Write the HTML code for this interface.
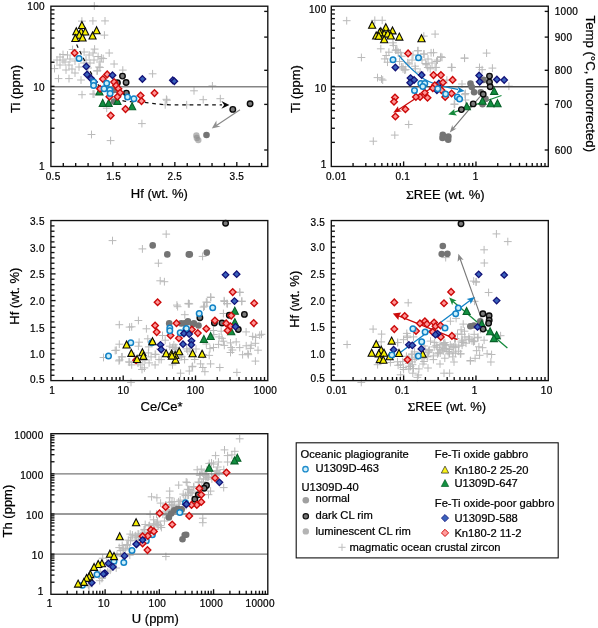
<!DOCTYPE html>
<html><head><meta charset="utf-8"><title>Zircon geochemistry</title>
<style>html,body{margin:0;padding:0;background:#fff}svg{display:block}text{font-family:"Liberation Sans", sans-serif;stroke:#000;stroke-width:0.22px}</style></head>
<body><svg width="598" height="628" viewBox="0 0 598 628">
<rect width="598" height="628" fill="#fff"/>
<path d="M90.4 6.0h7.8M94.3 2.1v7.8M78.0 21.1h7.8M81.9 17.2v7.8M89.0 20.9h7.8M92.9 17.0v7.8M101.1 20.9h7.8M105.0 17.0v7.8M100.5 35.1h7.8M104.4 31.2v7.8M90.7 49.1h7.8M94.6 45.2v7.8M68.7 49.5h7.8M72.6 45.6v7.8M59.1 54.5h7.8M63.0 50.6v7.8M63.6 55.0h7.8M67.5 51.1v7.8M80.2 52.0h7.8M84.1 48.1v7.8M85.2 55.0h7.8M89.1 51.1v7.8M89.2 53.0h7.8M93.1 49.1v7.8M94.2 56.5h7.8M98.1 52.6v7.8M99.3 58.6h7.8M103.2 54.7v7.8M105.3 53.0h7.8M109.2 49.1v7.8M59.1 60.0h7.8M63.0 56.1v7.8M50.6 68.6h7.8M54.5 64.7v7.8M65.1 65.0h7.8M69.0 61.1v7.8M62.1 70.0h7.8M66.0 66.1v7.8M68.1 69.0h7.8M72.0 65.1v7.8M75.1 67.0h7.8M79.0 63.1v7.8M54.6 78.6h7.8M58.5 74.7v7.8M65.1 78.6h7.8M69.0 74.7v7.8M77.1 80.0h7.8M81.0 76.1v7.8M95.1 67.0h7.8M99.0 63.1v7.8M93.1 71.0h7.8M97.0 67.1v7.8M78.1 94.7h7.8M82.0 90.8v7.8M89.1 94.0h7.8M93.0 90.1v7.8M56.1 57.0h7.8M60.0 53.1v7.8M61.1 62.0h7.8M65.0 58.1v7.8M66.1 59.0h7.8M70.0 55.1v7.8M71.1 61.0h7.8M75.0 57.1v7.8M73.1 56.0h7.8M77.0 52.1v7.8M82.1 60.0h7.8M86.0 56.1v7.8M86.1 63.0h7.8M90.0 59.1v7.8M90.1 60.0h7.8M94.0 56.1v7.8M96.1 62.0h7.8M100.0 58.1v7.8M84.1 68.0h7.8M88.0 64.1v7.8M56.1 65.0h7.8M60.0 61.1v7.8M71.1 73.0h7.8M75.0 69.1v7.8M80.1 63.0h7.8M84.0 59.1v7.8M53.1 60.0h7.8M57.0 56.1v7.8M97.5 58.0h7.8M101.4 54.1v7.8M110.2 64.0h7.8M114.1 60.1v7.8M96.1 67.4h7.8M100.0 63.5v7.8M93.5 70.7h7.8M97.4 66.8v7.8M118.9 70.1h7.8M122.8 66.2v7.8M148.7 73.8h7.8M152.6 69.9v7.8M163.0 100.2h7.8M166.9 96.3v7.8M138.0 123.6h7.8M141.9 119.7v7.8M90.1 94.1h7.8M94.0 90.2v7.8M102.8 108.2h7.8M106.7 104.3v7.8M162.5 99.3h7.8M166.4 95.4v7.8M190.1 90.8h7.8M194.0 86.9v7.8M208.5 85.9h7.8M212.4 82.0v7.8M199.3 99.7h7.8M203.2 95.8v7.8M216.4 98.7h7.8M220.3 94.8v7.8M161.3 104.8h7.8M165.2 100.9v7.8M182.8 104.8h7.8M186.7 100.9v7.8M87.6 134.5h7.8M91.5 130.6v7.8M106.7 140.6h7.8M110.6 136.7v7.8" stroke="#bababa" stroke-width="1.0" fill="none"/>
<line x1="50.90" y1="86.70" x2="267.80" y2="86.70" stroke="#858585" stroke-width="1.4" />

<path d="M76.6 44.5 C80 52 83.6 58.6 90.6 72.1 S100 88 112 96 S135 101 143.5 102.2 S160 104.6 170 104.8 H222" fill="none" stroke="#111" stroke-width="1.2" stroke-dasharray="3.7 3.8"/>

<circle cx="196.4" cy="135.5" r="3.2" fill="#8c8c8c" fill-opacity="0.62"/>
<circle cx="196.8" cy="137.9" r="3.2" fill="#8c8c8c" fill-opacity="0.62"/>
<circle cx="198.3" cy="140.1" r="3.2" fill="#8c8c8c" fill-opacity="0.62"/>
<circle cx="114.0" cy="90.0" r="3.3" fill="#747474" />
<circle cx="114.0" cy="101.5" r="3.3" fill="#747474" />
<circle cx="206.5" cy="135.0" r="3.3" fill="#747474" />
<path d="M99.4 88.0L103.0 95.0H95.9Z" fill="#129040" stroke="#086028" stroke-width="1.1" stroke-linejoin="miter"/>
<path d="M102.7 99.4L106.2 106.4H99.2Z" fill="#129040" stroke="#086028" stroke-width="1.1" stroke-linejoin="miter"/>
<path d="M108.7 99.4L112.2 106.4H105.2Z" fill="#129040" stroke="#086028" stroke-width="1.1" stroke-linejoin="miter"/>
<path d="M117.4 97.4L121.0 104.4H113.9Z" fill="#129040" stroke="#086028" stroke-width="1.1" stroke-linejoin="miter"/>
<path d="M132.1 102.8L135.7 109.8H128.5Z" fill="#129040" stroke="#086028" stroke-width="1.1" stroke-linejoin="miter"/>
<path d="M81.1 27.8L84.6 34.8H77.5Z" fill="#f6ee00" stroke="#0a0a0a" stroke-width="1.1" stroke-linejoin="miter"/>
<path d="M81.9 21.5L85.5 28.5H78.4Z" fill="#f6ee00" stroke="#0a0a0a" stroke-width="1.1" stroke-linejoin="miter"/>
<path d="M76.3 27.8L79.8 34.8H72.8Z" fill="#f6ee00" stroke="#0a0a0a" stroke-width="1.1" stroke-linejoin="miter"/>
<path d="M85.3 28.0L88.8 35.0H81.8Z" fill="#f6ee00" stroke="#0a0a0a" stroke-width="1.1" stroke-linejoin="miter"/>
<path d="M79.3 31.2L82.8 38.2H75.8Z" fill="#f6ee00" stroke="#0a0a0a" stroke-width="1.1" stroke-linejoin="miter"/>
<path d="M75.3 34.5L78.8 41.5H71.8Z" fill="#f6ee00" stroke="#0a0a0a" stroke-width="1.1" stroke-linejoin="miter"/>
<path d="M82.6 34.0L86.1 41.0H79.0Z" fill="#f6ee00" stroke="#0a0a0a" stroke-width="1.1" stroke-linejoin="miter"/>
<path d="M92.6 32.0L96.1 39.0H89.0Z" fill="#f6ee00" stroke="#0a0a0a" stroke-width="1.1" stroke-linejoin="miter"/>
<path d="M96.6 26.8L100.1 33.8H93.0Z" fill="#f6ee00" stroke="#0a0a0a" stroke-width="1.1" stroke-linejoin="miter"/>
<circle cx="122.5" cy="76.1" r="2.75" fill="#7a7a7a" stroke="#0a0a0a" stroke-width="1.4"/>
<circle cx="126.1" cy="82.5" r="2.75" fill="#7a7a7a" stroke="#0a0a0a" stroke-width="1.4"/>
<circle cx="117.4" cy="82.8" r="2.75" fill="#7a7a7a" stroke="#0a0a0a" stroke-width="1.4"/>
<circle cx="126.4" cy="93.1" r="2.75" fill="#7a7a7a" stroke="#0a0a0a" stroke-width="1.4"/>
<circle cx="232.8" cy="109.4" r="2.75" fill="#7a7a7a" stroke="#0a0a0a" stroke-width="1.4"/>
<circle cx="250.1" cy="103.7" r="2.75" fill="#7a7a7a" stroke="#0a0a0a" stroke-width="1.4"/>
<path d="M74.6 49.7L77.9 53.0L74.6 56.3L71.3 53.0Z" fill="#ff9696" stroke="#cc0a0a" stroke-width="1.4"/>
<path d="M107.2 71.1L110.5 74.4L107.2 77.7L103.9 74.4Z" fill="#ff9696" stroke="#cc0a0a" stroke-width="1.4"/>
<path d="M102.9 75.7L106.2 79.0L102.9 82.3L99.6 79.0Z" fill="#ff9696" stroke="#cc0a0a" stroke-width="1.4"/>
<path d="M114.1 78.8L117.4 82.1L114.1 85.4L110.8 82.1Z" fill="#ff9696" stroke="#cc0a0a" stroke-width="1.4"/>
<path d="M116.1 82.2L119.4 85.5L116.1 88.8L112.8 85.5Z" fill="#ff9696" stroke="#cc0a0a" stroke-width="1.4"/>
<path d="M118.4 85.5L121.7 88.8L118.4 92.1L115.1 88.8Z" fill="#ff9696" stroke="#cc0a0a" stroke-width="1.4"/>
<path d="M120.1 89.5L123.4 92.8L120.1 96.1L116.8 92.8Z" fill="#ff9696" stroke="#cc0a0a" stroke-width="1.4"/>
<path d="M117.4 93.5L120.7 96.8L117.4 100.1L114.1 96.8Z" fill="#ff9696" stroke="#cc0a0a" stroke-width="1.4"/>
<path d="M109.4 93.5L112.7 96.8L109.4 100.1L106.1 96.8Z" fill="#ff9696" stroke="#cc0a0a" stroke-width="1.4"/>
<path d="M100.0 85.5L103.3 88.8L100.0 92.1L96.7 88.8Z" fill="#ff9696" stroke="#cc0a0a" stroke-width="1.4"/>
<path d="M140.6 92.2L143.9 95.5L140.6 98.8L137.3 95.5Z" fill="#ff9696" stroke="#cc0a0a" stroke-width="1.4"/>
<path d="M141.5 97.8L144.8 101.1L141.5 104.4L138.2 101.1Z" fill="#ff9696" stroke="#cc0a0a" stroke-width="1.4"/>
<path d="M154.5 89.8L157.8 93.1L154.5 96.4L151.2 93.1Z" fill="#ff9696" stroke="#cc0a0a" stroke-width="1.4"/>
<path d="M125.5 105.8L128.8 109.1L125.5 112.4L122.2 109.1Z" fill="#ff9696" stroke="#cc0a0a" stroke-width="1.4"/>
<path d="M110.7 112.3L114.0 115.6L110.7 118.9L107.4 115.6Z" fill="#ff9696" stroke="#cc0a0a" stroke-width="1.4"/>
<path d="M86.3 63.3L89.5 66.6L86.3 69.8L83.0 66.6Z" fill="#3a62bc" stroke="#121278" stroke-width="1.3"/>
<path d="M87.1 71.3L90.3 74.6L87.1 77.8L83.8 74.6Z" fill="#3a62bc" stroke="#121278" stroke-width="1.3"/>
<path d="M91.1 75.3L94.3 78.6L91.1 81.8L87.8 78.6Z" fill="#3a62bc" stroke="#121278" stroke-width="1.3"/>
<path d="M94.1 78.8L97.3 82.1L94.1 85.3L90.8 82.1Z" fill="#3a62bc" stroke="#121278" stroke-width="1.3"/>
<path d="M112.5 72.0L115.8 75.2L112.5 78.5L109.2 75.2Z" fill="#3a62bc" stroke="#121278" stroke-width="1.3"/>
<path d="M142.4 75.7L145.7 78.9L142.4 82.2L139.2 78.9Z" fill="#3a62bc" stroke="#121278" stroke-width="1.3"/>
<path d="M172.8 77.0L176.1 80.2L172.8 83.5L169.6 80.2Z" fill="#3a62bc" stroke="#121278" stroke-width="1.3"/>
<path d="M174.3 78.0L177.6 81.3L174.3 84.5L171.1 81.3Z" fill="#3a62bc" stroke="#121278" stroke-width="1.3"/>
<circle cx="79.1" cy="58.6" r="2.75" fill="#ccf0fa" stroke="#1282c6" stroke-width="1.5"/>
<circle cx="93.6" cy="82.0" r="2.75" fill="#ccf0fa" stroke="#1282c6" stroke-width="1.5"/>
<circle cx="93.6" cy="85.6" r="2.75" fill="#ccf0fa" stroke="#1282c6" stroke-width="1.5"/>
<circle cx="106.7" cy="83.3" r="2.75" fill="#ccf0fa" stroke="#1282c6" stroke-width="1.5"/>
<circle cx="104.1" cy="88.7" r="2.75" fill="#ccf0fa" stroke="#1282c6" stroke-width="1.5"/>
<circle cx="109.8" cy="90.1" r="2.75" fill="#ccf0fa" stroke="#1282c6" stroke-width="1.5"/>
<circle cx="110.1" cy="93.5" r="2.75" fill="#ccf0fa" stroke="#1282c6" stroke-width="1.5"/>
<circle cx="127.5" cy="97.1" r="2.75" fill="#ccf0fa" stroke="#1282c6" stroke-width="1.5"/>
<circle cx="133.9" cy="98.8" r="2.75" fill="#ccf0fa" stroke="#1282c6" stroke-width="1.5"/>

<path d="M229.4 104.9 L221.4 101.1 L224.2 104.9 L221.4 108.7 Z" fill="#0a0a0a"/>
<line x1="240" y1="109.8" x2="216" y2="125.8" stroke="#888" stroke-width="1.1"/>
<path d="M211.8 128.6 L220.6 126.6 L216.6 125.4 L216.4 120.6 Z" fill="#909090"/>

<rect x="50.90" y="6.20" width="216.90" height="160.30" fill="none" stroke="#111" stroke-width="1.35"/>
<line x1="50.90" y1="142.37" x2="54.50" y2="142.37" stroke="#111" stroke-width="1.35" />
<line x1="50.90" y1="128.26" x2="54.50" y2="128.26" stroke="#111" stroke-width="1.35" />
<line x1="50.90" y1="118.24" x2="54.50" y2="118.24" stroke="#111" stroke-width="1.35" />
<line x1="50.90" y1="110.48" x2="54.50" y2="110.48" stroke="#111" stroke-width="1.35" />
<line x1="50.90" y1="104.13" x2="54.50" y2="104.13" stroke="#111" stroke-width="1.35" />
<line x1="50.90" y1="98.77" x2="54.50" y2="98.77" stroke="#111" stroke-width="1.35" />
<line x1="50.90" y1="94.12" x2="54.50" y2="94.12" stroke="#111" stroke-width="1.35" />
<line x1="50.90" y1="90.02" x2="54.50" y2="90.02" stroke="#111" stroke-width="1.35" />
<line x1="50.90" y1="86.35" x2="54.50" y2="86.35" stroke="#111" stroke-width="1.35" />
<line x1="50.90" y1="62.22" x2="54.50" y2="62.22" stroke="#111" stroke-width="1.35" />
<line x1="50.90" y1="48.11" x2="54.50" y2="48.11" stroke="#111" stroke-width="1.35" />
<line x1="50.90" y1="38.09" x2="54.50" y2="38.09" stroke="#111" stroke-width="1.35" />
<line x1="50.90" y1="30.33" x2="54.50" y2="30.33" stroke="#111" stroke-width="1.35" />
<line x1="50.90" y1="23.98" x2="54.50" y2="23.98" stroke="#111" stroke-width="1.35" />
<line x1="50.90" y1="18.62" x2="54.50" y2="18.62" stroke="#111" stroke-width="1.35" />
<line x1="50.90" y1="13.97" x2="54.50" y2="13.97" stroke="#111" stroke-width="1.35" />
<line x1="50.90" y1="9.87" x2="54.50" y2="9.87" stroke="#111" stroke-width="1.35" />
<line x1="267.80" y1="11.40" x2="264.20" y2="11.40" stroke="#111" stroke-width="1.35" />
<line x1="267.80" y1="37.10" x2="264.20" y2="37.10" stroke="#111" stroke-width="1.35" />
<line x1="267.80" y1="70.30" x2="264.20" y2="70.30" stroke="#111" stroke-width="1.35" />
<line x1="267.80" y1="104.40" x2="264.20" y2="104.40" stroke="#111" stroke-width="1.35" />
<line x1="267.80" y1="150.00" x2="264.20" y2="150.00" stroke="#111" stroke-width="1.35" />
<line x1="63.29" y1="166.50" x2="63.29" y2="162.90" stroke="#111" stroke-width="1.35" />
<line x1="75.69" y1="166.50" x2="75.69" y2="162.90" stroke="#111" stroke-width="1.35" />
<line x1="88.08" y1="166.50" x2="88.08" y2="162.90" stroke="#111" stroke-width="1.35" />
<line x1="100.48" y1="166.50" x2="100.48" y2="162.90" stroke="#111" stroke-width="1.35" />
<line x1="112.87" y1="166.50" x2="112.87" y2="161.90" stroke="#111" stroke-width="1.35" />
<line x1="125.27" y1="166.50" x2="125.27" y2="162.90" stroke="#111" stroke-width="1.35" />
<line x1="137.66" y1="166.50" x2="137.66" y2="162.90" stroke="#111" stroke-width="1.35" />
<line x1="150.05" y1="166.50" x2="150.05" y2="162.90" stroke="#111" stroke-width="1.35" />
<line x1="162.45" y1="166.50" x2="162.45" y2="162.90" stroke="#111" stroke-width="1.35" />
<line x1="174.84" y1="166.50" x2="174.84" y2="161.90" stroke="#111" stroke-width="1.35" />
<line x1="187.24" y1="166.50" x2="187.24" y2="162.90" stroke="#111" stroke-width="1.35" />
<line x1="199.63" y1="166.50" x2="199.63" y2="162.90" stroke="#111" stroke-width="1.35" />
<line x1="212.03" y1="166.50" x2="212.03" y2="162.90" stroke="#111" stroke-width="1.35" />
<line x1="224.42" y1="166.50" x2="224.42" y2="162.90" stroke="#111" stroke-width="1.35" />
<line x1="236.81" y1="166.50" x2="236.81" y2="161.90" stroke="#111" stroke-width="1.35" />
<line x1="249.21" y1="166.50" x2="249.21" y2="162.90" stroke="#111" stroke-width="1.35" />
<line x1="261.60" y1="166.50" x2="261.60" y2="162.90" stroke="#111" stroke-width="1.35" />
<text x="44.90" y="10.00" font-size="10.0" text-anchor="end" fill="#000" letter-spacing="0.3">100</text>
<text x="44.90" y="90.50" font-size="10.0" text-anchor="end" fill="#000" letter-spacing="0.3">10</text>
<text x="44.90" y="169.80" font-size="10.0" text-anchor="end" fill="#000" letter-spacing="0.3">1</text>
<text x="53.10" y="179.60" font-size="10.0" text-anchor="middle" fill="#000" letter-spacing="0.3">0.5</text>
<text x="113.67" y="179.60" font-size="10.0" text-anchor="middle" fill="#000" letter-spacing="0.3">1.5</text>
<text x="174.84" y="179.60" font-size="10.0" text-anchor="middle" fill="#000" letter-spacing="0.3">2.5</text>
<text x="236.81" y="179.60" font-size="10.0" text-anchor="middle" fill="#000" letter-spacing="0.3">3.5</text>
<text x="19.60" y="89.00" font-size="13" text-anchor="middle" fill="#000" transform="rotate(-90 19.60 89.00)" >Ti (ppm)</text>
<text x="159.40" y="197.90" font-size="13" text-anchor="middle" fill="#000" >Hf (wt. %)</text>
<path d="M431.2 34.1h7.8M435.1 30.2v7.8M419.9 36.1h7.8M423.8 32.2v7.8M460.7 58.2h7.8M464.6 54.3v7.8M448.0 67.5h7.8M451.9 63.6v7.8M393.1 50.1h7.8M397.0 46.2v7.8M413.8 50.8h7.8M417.7 46.9v7.8M419.9 54.1h7.8M423.8 50.2v7.8M427.2 52.8h7.8M431.1 48.9v7.8M436.6 57.5h7.8M440.5 53.6v7.8M432.6 61.5h7.8M436.5 57.6v7.8M421.9 63.5h7.8M425.8 59.6v7.8M423.9 67.5h7.8M427.8 63.6v7.8M431.2 67.5h7.8M435.1 63.6v7.8M399.1 68.9h7.8M403.0 65.0v7.8M403.8 62.8h7.8M407.7 58.9v7.8M411.1 66.2h7.8M415.0 62.3v7.8M396.5 52.8h7.8M400.4 48.9v7.8M342.8 20.7h7.8M346.7 16.8v7.8M370.9 20.3h7.8M374.8 16.4v7.8M378.3 20.3h7.8M382.2 16.4v7.8M357.5 57.5h7.8M361.4 53.6v7.8M376.9 48.8h7.8M380.8 44.9v7.8M389.0 42.8h7.8M392.9 38.9v7.8M385.0 52.2h7.8M388.9 48.3v7.8M382.3 55.5h7.8M386.2 51.6v7.8M380.9 58.9h7.8M384.8 55.0v7.8M383.6 62.2h7.8M387.5 58.3v7.8M391.7 50.2h7.8M395.6 46.3v7.8M394.3 52.2h7.8M398.2 48.3v7.8M397.7 56.2h7.8M401.6 52.3v7.8M395.7 61.5h7.8M399.6 57.6v7.8M399.0 66.9h7.8M402.9 63.0v7.8M401.7 69.6h7.8M405.6 65.7v7.8M373.6 77.6h7.8M377.5 73.7v7.8M377.6 79.0h7.8M381.5 75.1v7.8M389.5 45.4h7.8M393.4 41.5v7.8M392.1 50.0h7.8M396.0 46.1v7.8M397.5 66.8h7.8M401.4 62.9v7.8M400.8 70.1h7.8M404.7 66.2v7.8M414.2 50.7h7.8M418.1 46.8v7.8M420.2 54.0h7.8M424.1 50.1v7.8M429.6 52.7h7.8M433.5 48.8v7.8M437.0 56.7h7.8M440.9 52.8v7.8M433.6 60.1h7.8M437.5 56.2v7.8M422.3 64.7h7.8M426.2 60.8v7.8M426.3 68.8h7.8M430.2 64.9v7.8M432.3 67.4h7.8M436.2 63.5v7.8M447.7 67.4h7.8M451.6 63.5v7.8M411.6 68.8h7.8M415.5 64.9v7.8M416.2 72.1h7.8M420.1 68.2v7.8M378.8 80.1h7.8M382.7 76.2v7.8M443.0 80.1h7.8M446.9 76.2v7.8M450.3 104.2h7.8M454.2 100.3v7.8M408.1 60.0h7.8M412.0 56.1v7.8M405.1 64.0h7.8M409.0 60.1v7.8M424.1 59.0h7.8M428.0 55.1v7.8M428.1 63.0h7.8M432.0 59.1v7.8M418.1 60.0h7.8M422.0 56.1v7.8M409.1 55.0h7.8M413.0 51.1v7.8M482.7 53.1h7.8M486.6 49.2v7.8M460.6 58.1h7.8M464.5 54.2v7.8M438.1 57.4h7.8M442.0 53.5v7.8M447.5 67.4h7.8M451.4 63.5v7.8M475.6 67.4h7.8M479.5 63.5v7.8M478.2 69.7h7.8M482.1 65.8v7.8M488.5 68.1h7.8M492.4 64.2v7.8M505.0 86.2h7.8M508.9 82.3v7.8M450.8 104.2h7.8M454.7 100.3v7.8M461.5 93.5h7.8M465.4 89.6v7.8M458.1 84.0h7.8M462.0 80.1v7.8M404.8 124.5h7.8M408.7 120.6v7.8M461.0 94.7h7.8M464.9 90.8v7.8M461.6 100.0h7.8M465.5 96.1v7.8M369.4 141.2h7.8M373.3 137.3v7.8M390.9 135.1h7.8M394.8 131.2v7.8" stroke="#bababa" stroke-width="1.0" fill="none"/>
<line x1="331.30" y1="86.80" x2="548.30" y2="86.80" stroke="#4a4a4a" stroke-width="1.4" />

<path d="M398.7 55.4 C408 66 416 74 424 79 S440 85.5 458 89.5" fill="none" stroke="#1282c6" stroke-width="1.3"/>
<line x1="437.5" y1="84" x2="398" y2="110" stroke="#cc0a0a" stroke-width="1.3"/>
<line x1="501.5" y1="95.5" x2="453" y2="112.7" stroke="#158a3c" stroke-width="1.3"/>
<line x1="480" y1="96.7" x2="452.5" y2="129.2" stroke="#777" stroke-width="1.1"/>
<path d="M449.8 132.4 L456.6 128.6 L453.1 128.6 L452.3 125.0 Z" fill="#888"/>

<circle cx="470.5" cy="83.5" r="3.3" fill="#747474" />
<circle cx="471.8" cy="87.1" r="3.3" fill="#747474" />
<circle cx="474.1" cy="92.2" r="3.3" fill="#747474" />
<circle cx="483.5" cy="79.9" r="3.3" fill="#747474" />
<circle cx="480.8" cy="92.2" r="3.3" fill="#747474" />
<circle cx="485.5" cy="98.9" r="3.3" fill="#747474" />
<circle cx="482.5" cy="104.2" r="3.3" fill="#747474" />
<circle cx="442.8" cy="134.8" r="3.3" fill="#747474" />
<circle cx="442.5" cy="137.9" r="3.3" fill="#747474" />
<circle cx="448.4" cy="136.5" r="3.3" fill="#747474" />
<circle cx="448.2" cy="139.8" r="3.3" fill="#747474" />
<path d="M494.2 87.4L497.8 94.4H490.6Z" fill="#129040" stroke="#086028" stroke-width="1.1" stroke-linejoin="miter"/>
<path d="M482.5 97.2L486.1 104.2H478.9Z" fill="#129040" stroke="#086028" stroke-width="1.1" stroke-linejoin="miter"/>
<path d="M466.8 102.8L470.4 109.8H463.2Z" fill="#129040" stroke="#086028" stroke-width="1.1" stroke-linejoin="miter"/>
<path d="M490.6 99.8L494.2 106.8H487.1Z" fill="#129040" stroke="#086028" stroke-width="1.1" stroke-linejoin="miter"/>
<path d="M497.5 99.8L501.1 106.8H493.9Z" fill="#129040" stroke="#086028" stroke-width="1.1" stroke-linejoin="miter"/>
<path d="M421.5 34.7L425.1 41.7H417.9Z" fill="#f6ee00" stroke="#0a0a0a" stroke-width="1.1" stroke-linejoin="miter"/>
<path d="M372.1 21.3L375.7 28.3H368.6Z" fill="#f6ee00" stroke="#0a0a0a" stroke-width="1.1" stroke-linejoin="miter"/>
<path d="M385.8 23.7L389.4 30.7H382.2Z" fill="#f6ee00" stroke="#0a0a0a" stroke-width="1.1" stroke-linejoin="miter"/>
<path d="M392.5 26.9L396.1 33.9H388.9Z" fill="#f6ee00" stroke="#0a0a0a" stroke-width="1.1" stroke-linejoin="miter"/>
<path d="M380.8 27.7L384.4 34.7H377.2Z" fill="#f6ee00" stroke="#0a0a0a" stroke-width="1.1" stroke-linejoin="miter"/>
<path d="M384.2 30.0L387.8 37.0H380.6Z" fill="#f6ee00" stroke="#0a0a0a" stroke-width="1.1" stroke-linejoin="miter"/>
<path d="M387.8 30.0L391.4 37.0H384.2Z" fill="#f6ee00" stroke="#0a0a0a" stroke-width="1.1" stroke-linejoin="miter"/>
<path d="M379.5 28.7L383.1 35.7H375.9Z" fill="#f6ee00" stroke="#0a0a0a" stroke-width="1.1" stroke-linejoin="miter"/>
<path d="M376.2 32.0L379.8 39.0H372.6Z" fill="#f6ee00" stroke="#0a0a0a" stroke-width="1.1" stroke-linejoin="miter"/>
<path d="M378.8 32.3L382.4 39.3H375.2Z" fill="#f6ee00" stroke="#0a0a0a" stroke-width="1.1" stroke-linejoin="miter"/>
<path d="M390.9 32.0L394.4 39.0H387.3Z" fill="#f6ee00" stroke="#0a0a0a" stroke-width="1.1" stroke-linejoin="miter"/>
<path d="M399.3 33.1L402.9 40.1H395.8Z" fill="#f6ee00" stroke="#0a0a0a" stroke-width="1.1" stroke-linejoin="miter"/>
<path d="M384.2 35.8L387.8 42.8H380.6Z" fill="#f6ee00" stroke="#0a0a0a" stroke-width="1.1" stroke-linejoin="miter"/>
<circle cx="489.5" cy="76.1" r="2.75" fill="#7a7a7a" stroke="#0a0a0a" stroke-width="1.4"/>
<circle cx="489.5" cy="82.1" r="2.75" fill="#7a7a7a" stroke="#0a0a0a" stroke-width="1.4"/>
<circle cx="490.2" cy="86.8" r="2.75" fill="#7a7a7a" stroke="#0a0a0a" stroke-width="1.4"/>
<circle cx="483.2" cy="94.2" r="2.75" fill="#7a7a7a" stroke="#0a0a0a" stroke-width="1.4"/>
<circle cx="473.2" cy="103.9" r="2.75" fill="#7a7a7a" stroke="#0a0a0a" stroke-width="1.4"/>
<circle cx="461.4" cy="109.6" r="2.75" fill="#7a7a7a" stroke="#0a0a0a" stroke-width="1.4"/>
<path d="M395.4 64.2L398.6 67.4L395.4 70.7L392.1 67.4Z" fill="#3a62bc" stroke="#121278" stroke-width="1.3"/>
<path d="M421.7 71.8L424.9 75.1L421.7 78.3L418.4 75.1Z" fill="#3a62bc" stroke="#121278" stroke-width="1.3"/>
<path d="M410.5 74.8L413.8 78.1L410.5 81.3L407.2 78.1Z" fill="#3a62bc" stroke="#121278" stroke-width="1.3"/>
<path d="M414.1 76.7L417.4 79.9L414.1 83.2L410.9 79.9Z" fill="#3a62bc" stroke="#121278" stroke-width="1.3"/>
<path d="M410.1 79.5L413.4 82.8L410.1 86.0L406.9 82.8Z" fill="#3a62bc" stroke="#121278" stroke-width="1.3"/>
<path d="M438.9 80.2L442.1 83.5L438.9 86.8L435.6 83.5Z" fill="#3a62bc" stroke="#121278" stroke-width="1.3"/>
<path d="M436.9 87.0L440.1 90.2L436.9 93.5L433.6 90.2Z" fill="#3a62bc" stroke="#121278" stroke-width="1.3"/>
<path d="M479.1 72.2L482.4 75.5L479.1 78.8L475.9 75.5Z" fill="#3a62bc" stroke="#121278" stroke-width="1.3"/>
<path d="M479.7 78.5L482.9 81.7L479.7 85.0L476.4 81.7Z" fill="#3a62bc" stroke="#121278" stroke-width="1.3"/>
<path d="M496.9 76.2L500.1 79.5L496.9 82.8L493.6 79.5Z" fill="#3a62bc" stroke="#121278" stroke-width="1.3"/>
<path d="M504.2 76.8L507.4 80.1L504.2 83.3L500.9 80.1Z" fill="#3a62bc" stroke="#121278" stroke-width="1.3"/>
<path d="M408.1 50.1L411.4 53.4L408.1 56.7L404.8 53.4Z" fill="#ff9696" stroke="#cc0a0a" stroke-width="1.4"/>
<path d="M433.5 71.8L436.8 75.1L433.5 78.4L430.2 75.1Z" fill="#ff9696" stroke="#cc0a0a" stroke-width="1.4"/>
<path d="M440.9 71.8L444.2 75.1L440.9 78.4L437.6 75.1Z" fill="#ff9696" stroke="#cc0a0a" stroke-width="1.4"/>
<path d="M452.6 76.6L455.9 79.9L452.6 83.2L449.3 79.9Z" fill="#ff9696" stroke="#cc0a0a" stroke-width="1.4"/>
<path d="M442.9 79.2L446.2 82.5L442.9 85.8L439.6 82.5Z" fill="#ff9696" stroke="#cc0a0a" stroke-width="1.4"/>
<path d="M434.8 81.9L438.1 85.2L434.8 88.5L431.5 85.2Z" fill="#ff9696" stroke="#cc0a0a" stroke-width="1.4"/>
<path d="M432.8 84.9L436.1 88.2L432.8 91.5L429.5 88.2Z" fill="#ff9696" stroke="#cc0a0a" stroke-width="1.4"/>
<path d="M424.8 89.5L428.1 92.8L424.8 96.1L421.5 92.8Z" fill="#ff9696" stroke="#cc0a0a" stroke-width="1.4"/>
<path d="M420.1 93.6L423.4 96.9L420.1 100.2L416.8 96.9Z" fill="#ff9696" stroke="#cc0a0a" stroke-width="1.4"/>
<path d="M415.9 93.6L419.2 96.9L415.9 100.2L412.6 96.9Z" fill="#ff9696" stroke="#cc0a0a" stroke-width="1.4"/>
<path d="M427.5 94.5L430.8 97.8L427.5 101.1L424.2 97.8Z" fill="#ff9696" stroke="#cc0a0a" stroke-width="1.4"/>
<path d="M451.6 90.2L454.9 93.5L451.6 96.8L448.3 93.5Z" fill="#ff9696" stroke="#cc0a0a" stroke-width="1.4"/>
<path d="M445.2 93.6L448.5 96.9L445.2 100.2L441.9 96.9Z" fill="#ff9696" stroke="#cc0a0a" stroke-width="1.4"/>
<path d="M395.0 94.2L398.3 97.5L395.0 100.8L391.7 97.5Z" fill="#ff9696" stroke="#cc0a0a" stroke-width="1.4"/>
<path d="M394.0 98.5L397.3 101.8L394.0 105.1L390.7 101.8Z" fill="#ff9696" stroke="#cc0a0a" stroke-width="1.4"/>
<path d="M405.4 106.0L408.7 109.3L405.4 112.6L402.1 109.3Z" fill="#ff9696" stroke="#cc0a0a" stroke-width="1.4"/>
<path d="M395.4 113.2L398.7 116.5L395.4 119.8L392.1 116.5Z" fill="#ff9696" stroke="#cc0a0a" stroke-width="1.4"/>
<path d="M441.5 86.9L444.8 90.2L441.5 93.5L438.2 90.2Z" fill="#ff9696" stroke="#cc0a0a" stroke-width="1.4"/>
<circle cx="393.0" cy="59.8" r="2.75" fill="#ccf0fa" stroke="#1282c6" stroke-width="1.5"/>
<circle cx="418.5" cy="57.8" r="2.75" fill="#ccf0fa" stroke="#1282c6" stroke-width="1.5"/>
<circle cx="420.8" cy="83.5" r="2.75" fill="#ccf0fa" stroke="#1282c6" stroke-width="1.5"/>
<circle cx="424.8" cy="83.5" r="2.75" fill="#ccf0fa" stroke="#1282c6" stroke-width="1.5"/>
<circle cx="422.8" cy="86.6" r="2.75" fill="#ccf0fa" stroke="#1282c6" stroke-width="1.5"/>
<circle cx="414.5" cy="90.6" r="2.75" fill="#ccf0fa" stroke="#1282c6" stroke-width="1.5"/>
<circle cx="437.8" cy="88.8" r="2.75" fill="#ccf0fa" stroke="#1282c6" stroke-width="1.5"/>
<circle cx="445.6" cy="93.9" r="2.75" fill="#ccf0fa" stroke="#1282c6" stroke-width="1.5"/>
<circle cx="457.3" cy="96.9" r="2.75" fill="#ccf0fa" stroke="#1282c6" stroke-width="1.5"/>
<circle cx="459.6" cy="98.9" r="2.75" fill="#ccf0fa" stroke="#1282c6" stroke-width="1.5"/>

<path d="M464.6 91.0 L456.8 93.2 L458.9 89.8 L457.6 86.4 Z" fill="#1282c6"/>
<path d="M393.2 112.8 L398.0 106.2 L398.6 109.8 L402.0 111.3 Z" fill="#cc0a0a"/>
<path d="M448.2 114.4 L454.4 109.0 L454.2 112.4 L457.0 115.6 Z" fill="#158a3c"/>

<rect x="331.30" y="6.20" width="217.00" height="160.30" fill="none" stroke="#111" stroke-width="1.35"/>
<line x1="331.30" y1="142.37" x2="334.90" y2="142.37" stroke="#111" stroke-width="1.35" />
<line x1="331.30" y1="128.26" x2="334.90" y2="128.26" stroke="#111" stroke-width="1.35" />
<line x1="331.30" y1="118.24" x2="334.90" y2="118.24" stroke="#111" stroke-width="1.35" />
<line x1="331.30" y1="110.48" x2="334.90" y2="110.48" stroke="#111" stroke-width="1.35" />
<line x1="331.30" y1="104.13" x2="334.90" y2="104.13" stroke="#111" stroke-width="1.35" />
<line x1="331.30" y1="98.77" x2="334.90" y2="98.77" stroke="#111" stroke-width="1.35" />
<line x1="331.30" y1="94.12" x2="334.90" y2="94.12" stroke="#111" stroke-width="1.35" />
<line x1="331.30" y1="90.02" x2="334.90" y2="90.02" stroke="#111" stroke-width="1.35" />
<line x1="331.30" y1="86.35" x2="334.90" y2="86.35" stroke="#111" stroke-width="1.35" />
<line x1="331.30" y1="62.22" x2="334.90" y2="62.22" stroke="#111" stroke-width="1.35" />
<line x1="331.30" y1="48.11" x2="334.90" y2="48.11" stroke="#111" stroke-width="1.35" />
<line x1="331.30" y1="38.09" x2="334.90" y2="38.09" stroke="#111" stroke-width="1.35" />
<line x1="331.30" y1="30.33" x2="334.90" y2="30.33" stroke="#111" stroke-width="1.35" />
<line x1="331.30" y1="23.98" x2="334.90" y2="23.98" stroke="#111" stroke-width="1.35" />
<line x1="331.30" y1="18.62" x2="334.90" y2="18.62" stroke="#111" stroke-width="1.35" />
<line x1="331.30" y1="13.97" x2="334.90" y2="13.97" stroke="#111" stroke-width="1.35" />
<line x1="331.30" y1="9.87" x2="334.90" y2="9.87" stroke="#111" stroke-width="1.35" />
<line x1="548.30" y1="11.40" x2="544.70" y2="11.40" stroke="#111" stroke-width="1.35" />
<line x1="548.30" y1="37.10" x2="544.70" y2="37.10" stroke="#111" stroke-width="1.35" />
<line x1="548.30" y1="70.30" x2="544.70" y2="70.30" stroke="#111" stroke-width="1.35" />
<line x1="548.30" y1="104.40" x2="544.70" y2="104.40" stroke="#111" stroke-width="1.35" />
<line x1="548.30" y1="150.00" x2="544.70" y2="150.00" stroke="#111" stroke-width="1.35" />
<line x1="353.07" y1="166.50" x2="353.07" y2="162.90" stroke="#111" stroke-width="1.35" />
<line x1="365.81" y1="166.50" x2="365.81" y2="162.90" stroke="#111" stroke-width="1.35" />
<line x1="374.85" y1="166.50" x2="374.85" y2="162.90" stroke="#111" stroke-width="1.35" />
<line x1="381.86" y1="166.50" x2="381.86" y2="162.90" stroke="#111" stroke-width="1.35" />
<line x1="387.59" y1="166.50" x2="387.59" y2="162.90" stroke="#111" stroke-width="1.35" />
<line x1="392.43" y1="166.50" x2="392.43" y2="162.90" stroke="#111" stroke-width="1.35" />
<line x1="396.62" y1="166.50" x2="396.62" y2="162.90" stroke="#111" stroke-width="1.35" />
<line x1="400.32" y1="166.50" x2="400.32" y2="162.90" stroke="#111" stroke-width="1.35" />
<line x1="403.63" y1="166.50" x2="403.63" y2="161.40" stroke="#111" stroke-width="1.35" />
<line x1="425.41" y1="166.50" x2="425.41" y2="162.90" stroke="#111" stroke-width="1.35" />
<line x1="438.15" y1="166.50" x2="438.15" y2="162.90" stroke="#111" stroke-width="1.35" />
<line x1="447.18" y1="166.50" x2="447.18" y2="162.90" stroke="#111" stroke-width="1.35" />
<line x1="454.19" y1="166.50" x2="454.19" y2="162.90" stroke="#111" stroke-width="1.35" />
<line x1="459.92" y1="166.50" x2="459.92" y2="162.90" stroke="#111" stroke-width="1.35" />
<line x1="464.76" y1="166.50" x2="464.76" y2="162.90" stroke="#111" stroke-width="1.35" />
<line x1="468.96" y1="166.50" x2="468.96" y2="162.90" stroke="#111" stroke-width="1.35" />
<line x1="472.66" y1="166.50" x2="472.66" y2="162.90" stroke="#111" stroke-width="1.35" />
<line x1="475.97" y1="166.50" x2="475.97" y2="161.40" stroke="#111" stroke-width="1.35" />
<line x1="497.74" y1="166.50" x2="497.74" y2="162.90" stroke="#111" stroke-width="1.35" />
<line x1="510.48" y1="166.50" x2="510.48" y2="162.90" stroke="#111" stroke-width="1.35" />
<line x1="519.52" y1="166.50" x2="519.52" y2="162.90" stroke="#111" stroke-width="1.35" />
<line x1="526.53" y1="166.50" x2="526.53" y2="162.90" stroke="#111" stroke-width="1.35" />
<line x1="532.25" y1="166.50" x2="532.25" y2="162.90" stroke="#111" stroke-width="1.35" />
<line x1="537.10" y1="166.50" x2="537.10" y2="162.90" stroke="#111" stroke-width="1.35" />
<line x1="541.29" y1="166.50" x2="541.29" y2="162.90" stroke="#111" stroke-width="1.35" />
<line x1="544.99" y1="166.50" x2="544.99" y2="162.90" stroke="#111" stroke-width="1.35" />
<text x="326.60" y="12.50" font-size="10.0" text-anchor="end" fill="#000" letter-spacing="0.3">100</text>
<text x="326.60" y="91.80" font-size="10.0" text-anchor="end" fill="#000" letter-spacing="0.3">10</text>
<text x="326.60" y="168.00" font-size="10.0" text-anchor="end" fill="#000" letter-spacing="0.3">1</text>
<text x="336.30" y="180.00" font-size="10.0" text-anchor="middle" fill="#000" letter-spacing="0.3">0.01</text>
<text x="402.83" y="180.00" font-size="10.0" text-anchor="middle" fill="#000" letter-spacing="0.3">0.1</text>
<text x="475.57" y="180.00" font-size="10.0" text-anchor="middle" fill="#000" letter-spacing="0.3">1</text>
<text x="300.00" y="89.00" font-size="13" text-anchor="middle" fill="#000" transform="rotate(-90 300.00 89.00)" >Ti (ppm)</text>
<text x="445.30" y="198.60" font-size="13" text-anchor="middle" fill="#000"><tspan font-family="Liberation Serif, serif" font-size="13.5">Σ</tspan>REE (wt. %)</text>
<text x="554.70" y="15.00" font-size="10.0" text-anchor="start" fill="#000" letter-spacing="0.3">1000</text>
<text x="554.70" y="40.70" font-size="10.0" text-anchor="start" fill="#000" letter-spacing="0.3">900</text>
<text x="554.70" y="73.90" font-size="10.0" text-anchor="start" fill="#000" letter-spacing="0.3">800</text>
<text x="554.70" y="108.00" font-size="10.0" text-anchor="start" fill="#000" letter-spacing="0.3">700</text>
<text x="554.70" y="153.60" font-size="10.0" text-anchor="start" fill="#000" letter-spacing="0.3">600</text>
<text x="585.60" y="83.80" font-size="13.2" text-anchor="middle" fill="#000" transform="rotate(90 585.60 83.80)" >Temp (°C, uncorrected)</text>
<path d="M108.6 240.6h7.8M112.5 236.7v7.8M162.3 234.1h7.8M166.2 230.2v7.8M138.5 248.9h7.8M142.4 245.0v7.8M154.5 263.2h7.8M158.4 259.3v7.8M156.3 280.8h7.8M160.2 276.9v7.8M160.5 281.7h7.8M164.4 277.8v7.8M198.7 256.4h7.8M202.6 252.5v7.8M236.0 292.5h7.8M239.9 288.6v7.8M207.0 297.5h7.8M210.9 293.6v7.8M203.2 302.3h7.8M207.1 298.4v7.8M184.4 303.8h7.8M188.3 299.9v7.8M220.5 301.5h7.8M224.4 297.6v7.8M237.8 301.5h7.8M241.7 297.6v7.8M223.5 303.8h7.8M227.4 299.9v7.8M115.4 324.7h7.8M119.3 320.8v7.8M125.7 327.1h7.8M129.6 323.2v7.8M115.4 344.2h7.8M119.3 340.3v7.8M111.3 350.5h7.8M115.2 346.6v7.8M99.6 357.5h7.8M103.5 353.6v7.8M115.7 359.9h7.8M119.6 356.0v7.8M118.3 356.8h7.8M122.2 352.9v7.8M125.0 361.9h7.8M128.9 358.0v7.8M173.7 306.7h7.8M177.6 302.8v7.8M184.7 303.4h7.8M188.6 299.5v7.8M180.9 314.7h7.8M184.8 310.8v7.8M134.5 320.5h7.8M138.4 316.6v7.8M127.8 326.8h7.8M131.7 322.9v7.8M142.5 328.8h7.8M146.4 324.9v7.8M143.9 338.8h7.8M147.8 334.9v7.8M135.2 342.2h7.8M139.1 338.3v7.8M134.5 346.2h7.8M138.4 342.3v7.8M158.6 335.5h7.8M162.5 331.6v7.8M161.3 340.2h7.8M165.2 336.3v7.8M117.8 356.9h7.8M121.7 353.0v7.8M115.1 360.9h7.8M119.0 357.0v7.8M125.8 362.2h7.8M129.7 358.3v7.8M144.5 352.9h7.8M148.4 349.0v7.8M147.2 356.9h7.8M151.1 353.0v7.8M151.2 354.2h7.8M155.1 350.3v7.8M145.2 362.9h7.8M149.1 359.0v7.8M151.2 364.9h7.8M155.1 361.0v7.8M157.3 359.6h7.8M161.2 355.7v7.8M168.6 364.9h7.8M172.5 361.0v7.8M180.7 359.6h7.8M184.6 355.7v7.8M186.0 348.9h7.8M189.9 345.0v7.8M182.7 348.9h7.8M186.6 345.0v7.8M170.0 344.8h7.8M173.9 340.9v7.8M168.6 347.5h7.8M172.5 343.6v7.8M165.9 346.2h7.8M169.8 342.3v7.8M136.5 364.9h7.8M140.4 361.0v7.8M188.7 366.3h7.8M192.6 362.4v7.8M112.4 350.2h7.8M116.3 346.3v7.8M235.8 292.1h7.8M239.7 288.2v7.8M206.7 297.1h7.8M210.6 293.2v7.8M202.4 302.1h7.8M206.3 298.2v7.8M185.4 303.9h7.8M189.3 300.0v7.8M199.6 307.1h7.8M203.5 303.2v7.8M220.2 300.7h7.8M224.1 296.8v7.8M223.0 303.5h7.8M226.9 299.6v7.8M238.0 301.1h7.8M241.9 297.2v7.8M219.5 313.5h7.8M223.4 309.6v7.8M242.2 331.9h7.8M246.1 328.0v7.8M218.1 338.3h7.8M222.0 334.4v7.8M219.5 341.2h7.8M223.4 337.3v7.8M215.2 336.9h7.8M219.1 333.0v7.8M232.3 341.9h7.8M236.2 338.0v7.8M251.5 343.3h7.8M255.4 339.4v7.8M227.3 347.6h7.8M231.2 343.7v7.8M235.8 347.6h7.8M239.7 343.7v7.8M246.5 348.3h7.8M250.4 344.4v7.8M226.6 352.5h7.8M230.5 348.6v7.8M238.7 354.7h7.8M242.6 350.8v7.8M244.4 354.7h7.8M248.3 350.8v7.8M251.5 361.1h7.8M255.4 357.2v7.8M215.9 367.5h7.8M219.8 363.6v7.8M233.0 372.4h7.8M236.9 368.5v7.8M202.4 344.0h7.8M206.3 340.1v7.8M205.3 355.4h7.8M209.2 351.5v7.8M196.7 363.9h7.8M200.6 360.0v7.8M198.9 367.5h7.8M202.8 363.6v7.8M188.2 366.8h7.8M192.1 362.9v7.8M206.7 363.9h7.8M210.6 360.0v7.8M183.9 351.1h7.8M187.8 347.2v7.8M201.0 371.7h7.8M204.9 367.8v7.8M185.4 371.0h7.8M189.3 367.1v7.8M209.5 330.5h7.8M213.4 326.6v7.8M217.3 331.2h7.8M221.2 327.3v7.8M127.1 382.4h7.8M131.0 378.5v7.8M176.7 373.2h7.8M180.6 369.3v7.8M173.0 305.1h7.8M176.9 301.2v7.8M200.6 306.2h7.8M204.5 302.3v7.8M156.1 349.0h7.8M160.0 345.1v7.8M172.1 349.0h7.8M176.0 345.1v7.8M176.1 357.0h7.8M180.0 353.1v7.8M192.1 349.0h7.8M196.0 345.1v7.8M209.9 334.6h7.8M213.8 330.7v7.8M250.4 323.6h7.8M254.3 319.7v7.8M127.8 364.9h7.8M131.7 361.0v7.8M214.7 344.4h7.8M218.6 340.5v7.8M190.8 359.5h7.8M194.7 355.6v7.8M206.1 348.6h7.8M210.0 344.7v7.8M171.0 349.3h7.8M174.9 345.4v7.8M151.8 354.5h7.8M155.7 350.6v7.8M209.6 347.5h7.8M213.5 343.6v7.8M242.3 345.8h7.8M246.2 341.9v7.8M257.6 334.3h7.8M261.5 330.4v7.8M248.8 336.4h7.8M252.7 332.5v7.8M161.4 353.2h7.8M165.3 349.3v7.8M255.8 335.2h7.8M259.7 331.3v7.8M177.8 356.7h7.8M181.7 352.8v7.8M138.1 369.5h7.8M142.0 365.6v7.8M130.3 356.2h7.8M134.2 352.3v7.8M171.9 347.3h7.8M175.8 343.4v7.8M166.6 355.7h7.8M170.5 351.8v7.8M139.0 360.4h7.8M142.9 356.5v7.8M226.6 342.9h7.8M230.5 339.0v7.8M228.5 350.0h7.8M232.4 346.1v7.8M134.1 363.1h7.8M138.0 359.2v7.8M254.1 350.2h7.8M258.0 346.3v7.8M251.7 337.4h7.8M255.6 333.5v7.8M171.0 351.6h7.8M174.9 347.7v7.8M144.8 346.9h7.8M148.7 343.0v7.8M247.3 345.2h7.8M251.2 341.3v7.8M140.5 367.9h7.8M144.4 364.0v7.8M244.0 353.4h7.8M247.9 349.5v7.8M199.3 354.6h7.8M203.2 350.7v7.8M155.1 359.6h7.8M159.0 355.7v7.8M220.4 345.4h7.8M224.3 341.5v7.8M141.0 360.1h7.8M144.9 356.2v7.8" stroke="#bababa" stroke-width="1.0" fill="none"/>
<circle cx="152.7" cy="245.4" r="3.3" fill="#747474" />
<circle cx="167.3" cy="254.4" r="3.3" fill="#747474" />
<circle cx="188.8" cy="254.4" r="3.3" fill="#747474" />
<circle cx="189.8" cy="254.4" r="3.3" fill="#747474" />
<circle cx="206.8" cy="252.6" r="3.3" fill="#747474" />
<circle cx="169.2" cy="323.4" r="3.3" fill="#747474" />
<circle cx="181.2" cy="323.4" r="3.3" fill="#747474" />
<circle cx="187.9" cy="321.4" r="3.3" fill="#747474" />
<circle cx="184.6" cy="323.2" r="3.3" fill="#747474" />
<circle cx="193.9" cy="323.4" r="3.3" fill="#747474" />
<circle cx="187.8" cy="322.0" r="3.3" fill="#747474" />
<circle cx="192.8" cy="324.1" r="3.3" fill="#747474" />
<circle cx="198.5" cy="325.5" r="3.3" fill="#747474" />
<circle cx="151.8" cy="342.8" r="2.75" fill="#ccf0fa" stroke="#1282c6" stroke-width="1.5"/>
<circle cx="225.6" cy="223.3" r="2.75" fill="#7a7a7a" stroke="#0a0a0a" stroke-width="1.4"/>
<circle cx="244.4" cy="314.4" r="2.75" fill="#7a7a7a" stroke="#0a0a0a" stroke-width="1.4"/>
<circle cx="229.3" cy="315.3" r="2.75" fill="#7a7a7a" stroke="#0a0a0a" stroke-width="1.4"/>
<circle cx="199.9" cy="317.7" r="2.75" fill="#7a7a7a" stroke="#0a0a0a" stroke-width="1.4"/>
<circle cx="214.4" cy="323.0" r="2.75" fill="#7a7a7a" stroke="#0a0a0a" stroke-width="1.4"/>
<circle cx="222.0" cy="323.0" r="2.75" fill="#7a7a7a" stroke="#0a0a0a" stroke-width="1.4"/>
<circle cx="238.3" cy="329.5" r="2.75" fill="#7a7a7a" stroke="#0a0a0a" stroke-width="1.4"/>
<path d="M234.8 307.2L238.4 314.2H231.2Z" fill="#129040" stroke="#086028" stroke-width="1.1" stroke-linejoin="miter"/>
<path d="M234.8 318.6L238.4 325.6H231.2Z" fill="#129040" stroke="#086028" stroke-width="1.1" stroke-linejoin="miter"/>
<path d="M231.2 327.8L234.8 334.8H227.6Z" fill="#129040" stroke="#086028" stroke-width="1.1" stroke-linejoin="miter"/>
<path d="M210.6 332.5L214.2 339.5H207.0Z" fill="#129040" stroke="#086028" stroke-width="1.1" stroke-linejoin="miter"/>
<path d="M203.9 335.4L207.5 342.4H200.3Z" fill="#129040" stroke="#086028" stroke-width="1.1" stroke-linejoin="miter"/>
<path d="M157.6 299.0L160.9 302.3L157.6 305.6L154.3 302.3Z" fill="#ff9696" stroke="#cc0a0a" stroke-width="1.4"/>
<path d="M232.7 288.8L236.0 292.1L232.7 295.4L229.4 292.1Z" fill="#ff9696" stroke="#cc0a0a" stroke-width="1.4"/>
<path d="M254.2 300.0L257.5 303.3L254.2 306.6L250.9 303.3Z" fill="#ff9696" stroke="#cc0a0a" stroke-width="1.4"/>
<path d="M155.1 322.2L158.4 325.5L155.1 328.8L151.8 325.5Z" fill="#ff9696" stroke="#cc0a0a" stroke-width="1.4"/>
<path d="M156.7 328.8L160.0 332.1L156.7 335.4L153.4 332.1Z" fill="#ff9696" stroke="#cc0a0a" stroke-width="1.4"/>
<path d="M176.5 319.9L179.8 323.2L176.5 326.5L173.2 323.2Z" fill="#ff9696" stroke="#cc0a0a" stroke-width="1.4"/>
<path d="M170.5 332.2L173.8 335.5L170.5 338.8L167.2 335.5Z" fill="#ff9696" stroke="#cc0a0a" stroke-width="1.4"/>
<path d="M178.9 334.9L182.2 338.2L178.9 341.5L175.6 338.2Z" fill="#ff9696" stroke="#cc0a0a" stroke-width="1.4"/>
<path d="M191.9 326.2L195.2 329.5L191.9 332.8L188.6 329.5Z" fill="#ff9696" stroke="#cc0a0a" stroke-width="1.4"/>
<path d="M136.1 356.9L139.4 360.2L136.1 363.5L132.8 360.2Z" fill="#ff9696" stroke="#cc0a0a" stroke-width="1.4"/>
<path d="M253.7 319.8L257.0 323.1L253.7 326.4L250.4 323.1Z" fill="#ff9696" stroke="#cc0a0a" stroke-width="1.4"/>
<path d="M231.2 312.3L234.5 315.6L231.2 318.9L227.9 315.6Z" fill="#ff9696" stroke="#cc0a0a" stroke-width="1.4"/>
<path d="M214.9 317.3L218.2 320.6L214.9 323.9L211.6 320.6Z" fill="#ff9696" stroke="#cc0a0a" stroke-width="1.4"/>
<path d="M226.2 320.1L229.5 323.4L226.2 326.7L222.9 323.4Z" fill="#ff9696" stroke="#cc0a0a" stroke-width="1.4"/>
<path d="M230.5 322.9L233.8 326.2L230.5 329.5L227.2 326.2Z" fill="#ff9696" stroke="#cc0a0a" stroke-width="1.4"/>
<path d="M227.6 327.2L230.9 330.5L227.6 333.8L224.3 330.5Z" fill="#ff9696" stroke="#cc0a0a" stroke-width="1.4"/>
<path d="M206.3 325.4L209.6 328.7L206.3 332.0L203.0 328.7Z" fill="#ff9696" stroke="#cc0a0a" stroke-width="1.4"/>
<path d="M197.8 329.8L201.1 333.1L197.8 336.4L194.5 333.1Z" fill="#ff9696" stroke="#cc0a0a" stroke-width="1.4"/>
<circle cx="108.5" cy="355.9" r="2.75" fill="#ccf0fa" stroke="#1282c6" stroke-width="1.5"/>
<circle cx="130.8" cy="342.8" r="2.75" fill="#ccf0fa" stroke="#1282c6" stroke-width="1.5"/>
<circle cx="169.8" cy="328.1" r="2.75" fill="#ccf0fa" stroke="#1282c6" stroke-width="1.5"/>
<circle cx="169.8" cy="330.8" r="2.75" fill="#ccf0fa" stroke="#1282c6" stroke-width="1.5"/>
<circle cx="180.2" cy="332.8" r="2.75" fill="#ccf0fa" stroke="#1282c6" stroke-width="1.5"/>
<circle cx="185.9" cy="329.2" r="2.75" fill="#ccf0fa" stroke="#1282c6" stroke-width="1.5"/>
<circle cx="212.7" cy="307.8" r="2.75" fill="#ccf0fa" stroke="#1282c6" stroke-width="1.5"/>
<circle cx="199.2" cy="313.5" r="2.75" fill="#ccf0fa" stroke="#1282c6" stroke-width="1.5"/>
<circle cx="186.4" cy="328.4" r="2.75" fill="#ccf0fa" stroke="#1282c6" stroke-width="1.5"/>
<path d="M225.6 271.6L228.8 274.8L225.6 278.1L222.3 274.8Z" fill="#3a62bc" stroke="#121278" stroke-width="1.3"/>
<path d="M236.7 270.9L239.9 274.2L236.7 277.4L233.4 274.2Z" fill="#3a62bc" stroke="#121278" stroke-width="1.3"/>
<path d="M234.5 297.9L237.8 301.1L234.5 304.4L231.2 301.1Z" fill="#3a62bc" stroke="#121278" stroke-width="1.3"/>
<path d="M183.9 330.2L187.2 333.5L183.9 336.8L180.7 333.5Z" fill="#3a62bc" stroke="#121278" stroke-width="1.3"/>
<path d="M189.2 330.9L192.4 334.1L189.2 337.4L185.9 334.1Z" fill="#3a62bc" stroke="#121278" stroke-width="1.3"/>
<path d="M160.5 341.6L163.8 344.8L160.5 348.1L157.2 344.8Z" fill="#3a62bc" stroke="#121278" stroke-width="1.3"/>
<path d="M161.2 346.2L164.4 349.5L161.2 352.8L157.9 349.5Z" fill="#3a62bc" stroke="#121278" stroke-width="1.3"/>
<path d="M183.0 340.9L186.2 344.2L183.0 347.4L179.8 344.2Z" fill="#3a62bc" stroke="#121278" stroke-width="1.3"/>
<path d="M191.5 337.6L194.8 340.8L191.5 344.1L188.2 340.8Z" fill="#3a62bc" stroke="#121278" stroke-width="1.3"/>
<path d="M191.3 341.6L194.6 344.8L191.3 348.1L188.1 344.8Z" fill="#3a62bc" stroke="#121278" stroke-width="1.3"/>
<path d="M235.5 323.4L238.8 326.7L235.5 329.9L232.2 326.7Z" fill="#3a62bc" stroke="#121278" stroke-width="1.3"/>
<path d="M126.6 341.0L130.2 348.0H123.0Z" fill="#f6ee00" stroke="#0a0a0a" stroke-width="1.1" stroke-linejoin="miter"/>
<path d="M131.3 349.4L134.9 356.4H127.8Z" fill="#f6ee00" stroke="#0a0a0a" stroke-width="1.1" stroke-linejoin="miter"/>
<path d="M142.4 348.8L146.0 355.8H138.8Z" fill="#f6ee00" stroke="#0a0a0a" stroke-width="1.1" stroke-linejoin="miter"/>
<path d="M143.4 352.4L147.0 359.4H139.8Z" fill="#f6ee00" stroke="#0a0a0a" stroke-width="1.1" stroke-linejoin="miter"/>
<path d="M137.1 355.5L140.7 362.5H133.5Z" fill="#f6ee00" stroke="#0a0a0a" stroke-width="1.1" stroke-linejoin="miter"/>
<path d="M152.5 337.8L156.1 344.8H148.9Z" fill="#f6ee00" stroke="#0a0a0a" stroke-width="1.1" stroke-linejoin="miter"/>
<path d="M166.1 349.8L169.7 356.8H162.5Z" fill="#f6ee00" stroke="#0a0a0a" stroke-width="1.1" stroke-linejoin="miter"/>
<path d="M171.5 350.1L175.1 357.1H167.9Z" fill="#f6ee00" stroke="#0a0a0a" stroke-width="1.1" stroke-linejoin="miter"/>
<path d="M175.2 351.5L178.8 358.5H171.6Z" fill="#f6ee00" stroke="#0a0a0a" stroke-width="1.1" stroke-linejoin="miter"/>
<path d="M179.2 347.7L182.8 354.7H175.6Z" fill="#f6ee00" stroke="#0a0a0a" stroke-width="1.1" stroke-linejoin="miter"/>
<path d="M175.5 356.1L179.1 363.1H171.9Z" fill="#f6ee00" stroke="#0a0a0a" stroke-width="1.1" stroke-linejoin="miter"/>
<path d="M192.6 349.8L196.2 356.8H189.0Z" fill="#f6ee00" stroke="#0a0a0a" stroke-width="1.1" stroke-linejoin="miter"/>
<path d="M171.9 352.1L175.5 359.1H168.3Z" fill="#f6ee00" stroke="#0a0a0a" stroke-width="1.1" stroke-linejoin="miter"/>
<path d="M202.1 350.2L205.7 357.2H198.5Z" fill="#f6ee00" stroke="#0a0a0a" stroke-width="1.1" stroke-linejoin="miter"/>

<rect x="50.90" y="220.55" width="216.90" height="160.05" fill="none" stroke="#111" stroke-width="1.35"/>
<line x1="50.90" y1="375.27" x2="54.50" y2="375.27" stroke="#111" stroke-width="1.35" />
<line x1="50.90" y1="369.93" x2="54.50" y2="369.93" stroke="#111" stroke-width="1.35" />
<line x1="50.90" y1="364.60" x2="54.50" y2="364.60" stroke="#111" stroke-width="1.35" />
<line x1="50.90" y1="359.26" x2="54.50" y2="359.26" stroke="#111" stroke-width="1.35" />
<line x1="50.90" y1="353.93" x2="55.50" y2="353.93" stroke="#111" stroke-width="1.35" />
<line x1="50.90" y1="348.59" x2="54.50" y2="348.59" stroke="#111" stroke-width="1.35" />
<line x1="50.90" y1="343.25" x2="54.50" y2="343.25" stroke="#111" stroke-width="1.35" />
<line x1="50.90" y1="337.92" x2="54.50" y2="337.92" stroke="#111" stroke-width="1.35" />
<line x1="50.90" y1="332.59" x2="54.50" y2="332.59" stroke="#111" stroke-width="1.35" />
<line x1="50.90" y1="327.25" x2="55.50" y2="327.25" stroke="#111" stroke-width="1.35" />
<line x1="50.90" y1="321.92" x2="54.50" y2="321.92" stroke="#111" stroke-width="1.35" />
<line x1="50.90" y1="316.58" x2="54.50" y2="316.58" stroke="#111" stroke-width="1.35" />
<line x1="50.90" y1="311.25" x2="54.50" y2="311.25" stroke="#111" stroke-width="1.35" />
<line x1="50.90" y1="305.91" x2="54.50" y2="305.91" stroke="#111" stroke-width="1.35" />
<line x1="50.90" y1="300.58" x2="55.50" y2="300.58" stroke="#111" stroke-width="1.35" />
<line x1="50.90" y1="295.24" x2="54.50" y2="295.24" stroke="#111" stroke-width="1.35" />
<line x1="50.90" y1="289.91" x2="54.50" y2="289.91" stroke="#111" stroke-width="1.35" />
<line x1="50.90" y1="284.57" x2="54.50" y2="284.57" stroke="#111" stroke-width="1.35" />
<line x1="50.90" y1="279.24" x2="54.50" y2="279.24" stroke="#111" stroke-width="1.35" />
<line x1="50.90" y1="273.90" x2="55.50" y2="273.90" stroke="#111" stroke-width="1.35" />
<line x1="50.90" y1="268.56" x2="54.50" y2="268.56" stroke="#111" stroke-width="1.35" />
<line x1="50.90" y1="263.23" x2="54.50" y2="263.23" stroke="#111" stroke-width="1.35" />
<line x1="50.90" y1="257.90" x2="54.50" y2="257.90" stroke="#111" stroke-width="1.35" />
<line x1="50.90" y1="252.56" x2="54.50" y2="252.56" stroke="#111" stroke-width="1.35" />
<line x1="50.90" y1="247.23" x2="55.50" y2="247.23" stroke="#111" stroke-width="1.35" />
<line x1="50.90" y1="241.89" x2="54.50" y2="241.89" stroke="#111" stroke-width="1.35" />
<line x1="50.90" y1="236.56" x2="54.50" y2="236.56" stroke="#111" stroke-width="1.35" />
<line x1="50.90" y1="231.22" x2="54.50" y2="231.22" stroke="#111" stroke-width="1.35" />
<line x1="50.90" y1="225.89" x2="54.50" y2="225.89" stroke="#111" stroke-width="1.35" />
<line x1="72.66" y1="380.60" x2="72.66" y2="377.00" stroke="#111" stroke-width="1.35" />
<line x1="85.40" y1="380.60" x2="85.40" y2="377.00" stroke="#111" stroke-width="1.35" />
<line x1="94.43" y1="380.60" x2="94.43" y2="377.00" stroke="#111" stroke-width="1.35" />
<line x1="101.44" y1="380.60" x2="101.44" y2="377.00" stroke="#111" stroke-width="1.35" />
<line x1="107.16" y1="380.60" x2="107.16" y2="377.00" stroke="#111" stroke-width="1.35" />
<line x1="112.00" y1="380.60" x2="112.00" y2="377.00" stroke="#111" stroke-width="1.35" />
<line x1="116.19" y1="380.60" x2="116.19" y2="377.00" stroke="#111" stroke-width="1.35" />
<line x1="119.89" y1="380.60" x2="119.89" y2="377.00" stroke="#111" stroke-width="1.35" />
<line x1="123.20" y1="380.60" x2="123.20" y2="375.50" stroke="#111" stroke-width="1.35" />
<line x1="144.96" y1="380.60" x2="144.96" y2="377.00" stroke="#111" stroke-width="1.35" />
<line x1="157.70" y1="380.60" x2="157.70" y2="377.00" stroke="#111" stroke-width="1.35" />
<line x1="166.73" y1="380.60" x2="166.73" y2="377.00" stroke="#111" stroke-width="1.35" />
<line x1="173.74" y1="380.60" x2="173.74" y2="377.00" stroke="#111" stroke-width="1.35" />
<line x1="179.46" y1="380.60" x2="179.46" y2="377.00" stroke="#111" stroke-width="1.35" />
<line x1="184.30" y1="380.60" x2="184.30" y2="377.00" stroke="#111" stroke-width="1.35" />
<line x1="188.49" y1="380.60" x2="188.49" y2="377.00" stroke="#111" stroke-width="1.35" />
<line x1="192.19" y1="380.60" x2="192.19" y2="377.00" stroke="#111" stroke-width="1.35" />
<line x1="195.50" y1="380.60" x2="195.50" y2="375.50" stroke="#111" stroke-width="1.35" />
<line x1="217.26" y1="380.60" x2="217.26" y2="377.00" stroke="#111" stroke-width="1.35" />
<line x1="230.00" y1="380.60" x2="230.00" y2="377.00" stroke="#111" stroke-width="1.35" />
<line x1="239.03" y1="380.60" x2="239.03" y2="377.00" stroke="#111" stroke-width="1.35" />
<line x1="246.04" y1="380.60" x2="246.04" y2="377.00" stroke="#111" stroke-width="1.35" />
<line x1="251.76" y1="380.60" x2="251.76" y2="377.00" stroke="#111" stroke-width="1.35" />
<line x1="256.60" y1="380.60" x2="256.60" y2="377.00" stroke="#111" stroke-width="1.35" />
<line x1="260.79" y1="380.60" x2="260.79" y2="377.00" stroke="#111" stroke-width="1.35" />
<line x1="264.49" y1="380.60" x2="264.49" y2="377.00" stroke="#111" stroke-width="1.35" />
<text x="44.80" y="383.30" font-size="10.0" text-anchor="end" fill="#000" letter-spacing="0.3">0.5</text>
<text x="44.80" y="358.32" font-size="10.0" text-anchor="end" fill="#000" letter-spacing="0.3">1.0</text>
<text x="44.80" y="331.65" font-size="10.0" text-anchor="end" fill="#000" letter-spacing="0.3">1.5</text>
<text x="44.80" y="304.98" font-size="10.0" text-anchor="end" fill="#000" letter-spacing="0.3">2.0</text>
<text x="44.80" y="278.30" font-size="10.0" text-anchor="end" fill="#000" letter-spacing="0.3">2.5</text>
<text x="44.80" y="251.63" font-size="10.0" text-anchor="end" fill="#000" letter-spacing="0.3">3.0</text>
<text x="44.80" y="225.05" font-size="10.0" text-anchor="end" fill="#000" letter-spacing="0.3">3.5</text>
<text x="52.20" y="393.90" font-size="10.0" text-anchor="middle" fill="#000" letter-spacing="0.3">1</text>
<text x="123.40" y="393.90" font-size="10.0" text-anchor="middle" fill="#000" letter-spacing="0.3">10</text>
<text x="195.50" y="393.90" font-size="10.0" text-anchor="middle" fill="#000" letter-spacing="0.3">100</text>
<text x="265.40" y="393.90" font-size="10.0" text-anchor="middle" fill="#000" letter-spacing="0.3">1000</text>
<text x="18.90" y="296.10" font-size="13" text-anchor="middle" fill="#000" transform="rotate(-90 18.90 296.10)" >Hf (wt. %)</text>
<text x="161.50" y="410.90" font-size="13" text-anchor="middle" fill="#000" >Ce/Ce*</text>
<path d="M404.3 302.8h7.8M408.2 298.9v7.8M369.2 329.1h7.8M373.1 325.2v7.8M377.7 334.1h7.8M381.6 330.2v7.8M343.2 344.5h7.8M347.1 340.6v7.8M377.3 341.9h7.8M381.2 338.0v7.8M393.6 342.6h7.8M397.5 338.7v7.8M402.9 333.4h7.8M406.8 329.5v7.8M403.6 337.6h7.8M407.5 333.7v7.8M373.7 364.7h7.8M377.6 360.8v7.8M386.5 362.5h7.8M390.4 358.6v7.8M393.6 361.8h7.8M397.5 357.9v7.8M396.5 364.7h7.8M400.4 360.8v7.8M399.3 367.5h7.8M403.2 363.6v7.8M408.6 364.7h7.8M412.5 360.8v7.8M405.0 368.9h7.8M408.9 365.0v7.8M410.7 351.9h7.8M414.6 348.0v7.8M407.9 354.7h7.8M411.8 350.8v7.8M415.0 368.9h7.8M418.9 365.0v7.8M413.5 377.4h7.8M417.4 373.5v7.8M472.1 282.1h7.8M476.0 278.2v7.8M470.7 301.3h7.8M474.6 297.4v7.8M452.2 318.4h7.8M456.1 314.5v7.8M446.5 321.2h7.8M450.4 317.3v7.8M459.3 324.1h7.8M463.2 320.2v7.8M457.2 329.8h7.8M461.1 325.9v7.8M465.0 336.9h7.8M468.9 333.0v7.8M453.6 334.0h7.8M457.5 330.1v7.8M459.3 342.5h7.8M463.2 338.6v7.8M470.7 341.1h7.8M474.6 337.2v7.8M475.0 346.8h7.8M478.9 342.9v7.8M448.0 346.8h7.8M451.9 342.9v7.8M440.9 342.5h7.8M444.8 338.6v7.8M445.1 353.9h7.8M449.0 350.0v7.8M456.5 353.9h7.8M460.4 350.0v7.8M466.4 361.0h7.8M470.3 357.1v7.8M440.9 358.2h7.8M444.8 354.3v7.8M432.3 345.4h7.8M436.2 341.5v7.8M426.6 341.1h7.8M430.5 337.2v7.8M425.2 349.7h7.8M429.1 345.8v7.8M433.7 353.9h7.8M437.6 350.0v7.8M429.5 359.6h7.8M433.4 355.7v7.8M423.8 356.8h7.8M427.7 352.9v7.8M409.6 336.9h7.8M413.5 333.0v7.8M403.2 336.1h7.8M407.1 332.2v7.8M399.6 339.7h7.8M403.5 335.8v7.8M393.9 342.5h7.8M397.8 338.6v7.8M408.2 353.9h7.8M412.1 350.0v7.8M411.0 359.6h7.8M414.9 355.7v7.8M492.5 233.9h7.8M496.4 230.0v7.8M503.9 241.6h7.8M507.8 237.7v7.8M480.2 249.8h7.8M484.1 245.9v7.8M480.4 263.0h7.8M484.3 259.1v7.8M469.8 281.1h7.8M473.7 277.2v7.8M472.3 281.8h7.8M476.2 277.9v7.8M484.7 292.5h7.8M488.6 288.6v7.8M441.8 257.6h7.8M445.7 253.7v7.8M460.6 331.2h7.8M464.5 327.3v7.8M458.4 340.2h7.8M462.3 336.3v7.8M462.1 343.2h7.8M466.0 339.3v7.8M469.6 341.7h7.8M473.5 337.8v7.8M474.2 337.2h7.8M478.1 333.3v7.8M480.2 340.2h7.8M484.1 336.3v7.8M478.7 347.7h7.8M482.6 343.8v7.8M472.7 350.7h7.8M476.6 346.8v7.8M475.7 355.3h7.8M479.6 351.4v7.8M483.2 353.8h7.8M487.1 349.9v7.8M487.7 354.5h7.8M491.6 350.6v7.8M471.2 358.3h7.8M475.1 354.4v7.8M466.6 360.5h7.8M470.5 356.6v7.8M487.0 362.0h7.8M490.9 358.1v7.8M496.7 335.7h7.8M500.6 331.8v7.8M456.9 353.8h7.8M460.8 349.9v7.8M440.1 373.2h7.8M444.0 369.3v7.8M445.7 373.2h7.8M449.6 369.3v7.8M399.7 369.5h7.8M403.6 365.6v7.8M414.4 375.0h7.8M418.3 371.1v7.8M357.4 382.4h7.8M361.3 378.5v7.8M419.1 364.0h7.8M423.0 360.1v7.8M424.1 368.0h7.8M428.0 364.1v7.8M436.1 364.0h7.8M440.0 360.1v7.8M450.1 362.0h7.8M454.0 358.1v7.8M420.1 346.0h7.8M424.0 342.1v7.8M438.1 350.0h7.8M442.0 346.1v7.8M451.1 345.0h7.8M455.0 341.1v7.8M421.2 349.2h7.8M425.1 345.3v7.8M424.6 352.6h7.8M428.5 348.7v7.8M403.5 360.3h7.8M407.4 356.4v7.8M454.9 346.2h7.8M458.8 342.3v7.8M402.5 356.3h7.8M406.4 352.4v7.8M404.9 363.4h7.8M408.8 359.5v7.8M441.2 345.7h7.8M445.1 341.8v7.8M394.2 365.3h7.8M398.1 361.4v7.8M408.2 361.9h7.8M412.1 358.0v7.8M423.1 356.5h7.8M427.0 352.6v7.8M430.3 346.9h7.8M434.2 343.0v7.8M440.8 348.5h7.8M444.7 344.6v7.8M473.7 337.8h7.8M477.6 333.9v7.8M445.6 349.5h7.8M449.5 345.6v7.8M420.1 361.5h7.8M424.0 357.6v7.8M425.4 350.7h7.8M429.3 346.8v7.8M465.1 339.0h7.8M469.0 335.1v7.8M412.5 357.1h7.8M416.4 353.2v7.8M465.7 339.7h7.8M469.6 335.8v7.8M441.1 344.5h7.8M445.0 340.6v7.8M396.7 374.8h7.8M400.6 370.9v7.8M451.9 347.3h7.8M455.8 343.4v7.8M406.6 366.5h7.8M410.5 362.6v7.8M404.2 359.0h7.8M408.1 355.1v7.8M408.0 358.0h7.8M411.9 354.1v7.8M444.1 351.5h7.8M448.0 347.6v7.8M408.9 373.2h7.8M412.8 369.3v7.8M451.5 353.3h7.8M455.4 349.4v7.8M405.1 366.2h7.8M409.0 362.3v7.8M448.9 356.9h7.8M452.8 353.0v7.8M409.6 368.6h7.8M413.5 364.7v7.8M418.1 358.7h7.8M422.0 354.8v7.8M398.8 361.6h7.8M402.7 357.7v7.8M436.3 353.1h7.8M440.2 349.2v7.8M430.8 342.4h7.8M434.7 338.5v7.8M449.2 352.0h7.8M453.1 348.1v7.8M460.9 337.0h7.8M464.8 333.1v7.8M438.8 347.8h7.8M442.7 343.9v7.8M458.2 345.2h7.8M462.1 341.3v7.8M435.8 349.3h7.8M439.7 345.4v7.8M473.5 323.9h7.8M477.4 320.0v7.8M457.5 341.9h7.8M461.4 338.0v7.8M454.5 351.2h7.8M458.4 347.3v7.8M445.6 353.0h7.8M449.5 349.1v7.8M433.3 347.3h7.8M437.2 343.4v7.8M449.8 346.9h7.8M453.7 343.0v7.8M439.3 351.0h7.8M443.2 347.1v7.8M436.2 344.4h7.8M440.1 340.5v7.8M476.5 329.4h7.8M480.4 325.5v7.8M458.0 334.3h7.8M461.9 330.4v7.8M424.7 351.2h7.8M428.6 347.3v7.8M439.7 343.5h7.8M443.6 339.6v7.8M442.4 348.7h7.8M446.3 344.8v7.8M446.4 344.9h7.8M450.3 341.0v7.8M429.4 355.9h7.8M433.3 352.0v7.8M470.3 334.3h7.8M474.2 330.4v7.8M451.6 338.5h7.8M455.5 334.6v7.8M450.6 338.6h7.8M454.5 334.7v7.8M434.5 352.8h7.8M438.4 348.9v7.8M468.1 340.9h7.8M472.0 337.0v7.8" stroke="#bababa" stroke-width="1.0" fill="none"/>

<line x1="399.3" y1="353.2" x2="470" y2="300.5" stroke="#1282c6" stroke-width="1.3"/>
<line x1="457.5" y1="339.7" x2="398" y2="315.6" stroke="#cc0a0a" stroke-width="1.3"/>
<line x1="507.4" y1="348" x2="452.5" y2="301" stroke="#158a3c" stroke-width="1.3"/>
<line x1="481.1" y1="317.6" x2="459.8" y2="258" stroke="#777" stroke-width="1.1"/>
<path d="M458.4 253.8 L463.6 260.0 L460.2 259.0 L457.6 261.8 Z" fill="#888"/>

<circle cx="442.8" cy="246.0" r="3.3" fill="#747474" />
<circle cx="441.7" cy="254.1" r="3.3" fill="#747474" />
<circle cx="447.4" cy="253.8" r="3.3" fill="#747474" />
<circle cx="470.3" cy="326.2" r="3.3" fill="#747474" />
<circle cx="473.9" cy="325.5" r="3.3" fill="#747474" />
<circle cx="480.3" cy="321.4" r="3.3" fill="#747474" />
<path d="M466.6 307.5L470.2 314.5H463.1Z" fill="#129040" stroke="#086028" stroke-width="1.1" stroke-linejoin="miter"/>
<path d="M481.8 320.3L485.4 327.3H478.2Z" fill="#129040" stroke="#086028" stroke-width="1.1" stroke-linejoin="miter"/>
<path d="M490.1 327.8L493.7 334.8H486.6Z" fill="#129040" stroke="#086028" stroke-width="1.1" stroke-linejoin="miter"/>
<path d="M496.6 331.6L500.2 338.6H493.1Z" fill="#129040" stroke="#086028" stroke-width="1.1" stroke-linejoin="miter"/>
<path d="M493.9 334.6L497.4 341.6H490.3Z" fill="#129040" stroke="#086028" stroke-width="1.1" stroke-linejoin="miter"/>
<circle cx="461.0" cy="223.8" r="2.75" fill="#7a7a7a" stroke="#0a0a0a" stroke-width="1.4"/>
<circle cx="482.9" cy="313.7" r="2.75" fill="#7a7a7a" stroke="#0a0a0a" stroke-width="1.4"/>
<circle cx="489.1" cy="315.7" r="2.75" fill="#7a7a7a" stroke="#0a0a0a" stroke-width="1.4"/>
<circle cx="489.2" cy="320.3" r="2.75" fill="#7a7a7a" stroke="#0a0a0a" stroke-width="1.4"/>
<circle cx="488.6" cy="323.2" r="2.75" fill="#7a7a7a" stroke="#0a0a0a" stroke-width="1.4"/>
<circle cx="483.1" cy="329.1" r="2.75" fill="#7a7a7a" stroke="#0a0a0a" stroke-width="1.4"/>
<path d="M376.2 340.4L379.8 347.4H372.6Z" fill="#f6ee00" stroke="#0a0a0a" stroke-width="1.1" stroke-linejoin="miter"/>
<path d="M391.6 337.1L395.2 344.1H388.1Z" fill="#f6ee00" stroke="#0a0a0a" stroke-width="1.1" stroke-linejoin="miter"/>
<path d="M371.7 349.2L375.2 356.2H368.1Z" fill="#f6ee00" stroke="#0a0a0a" stroke-width="1.1" stroke-linejoin="miter"/>
<path d="M381.2 346.3L384.8 353.3H377.6Z" fill="#f6ee00" stroke="#0a0a0a" stroke-width="1.1" stroke-linejoin="miter"/>
<path d="M378.8 349.9L382.4 356.9H375.2Z" fill="#f6ee00" stroke="#0a0a0a" stroke-width="1.1" stroke-linejoin="miter"/>
<path d="M384.0 349.2L387.6 356.2H380.4Z" fill="#f6ee00" stroke="#0a0a0a" stroke-width="1.1" stroke-linejoin="miter"/>
<path d="M379.8 355.6L383.4 362.6H376.2Z" fill="#f6ee00" stroke="#0a0a0a" stroke-width="1.1" stroke-linejoin="miter"/>
<path d="M383.3 356.3L386.9 363.3H379.8Z" fill="#f6ee00" stroke="#0a0a0a" stroke-width="1.1" stroke-linejoin="miter"/>
<path d="M399.0 349.5L402.6 356.5H395.4Z" fill="#f6ee00" stroke="#0a0a0a" stroke-width="1.1" stroke-linejoin="miter"/>
<path d="M389.7 352.7L393.2 359.7H386.1Z" fill="#f6ee00" stroke="#0a0a0a" stroke-width="1.1" stroke-linejoin="miter"/>
<path d="M422.7 350.2L426.2 357.2H419.1Z" fill="#f6ee00" stroke="#0a0a0a" stroke-width="1.1" stroke-linejoin="miter"/>
<path d="M394.3 299.1L397.6 302.4L394.3 305.7L391.0 302.4Z" fill="#ff9696" stroke="#cc0a0a" stroke-width="1.4"/>
<path d="M404.7 312.7L408.0 316.0L404.7 319.3L401.4 316.0Z" fill="#ff9696" stroke="#cc0a0a" stroke-width="1.4"/>
<path d="M394.3 325.8L397.6 329.1L394.3 332.4L391.0 329.1Z" fill="#ff9696" stroke="#cc0a0a" stroke-width="1.4"/>
<path d="M407.5 356.5L410.8 359.8L407.5 363.1L404.2 359.8Z" fill="#ff9696" stroke="#cc0a0a" stroke-width="1.4"/>
<path d="M451.1 288.6L454.4 291.9L451.1 295.2L447.8 291.9Z" fill="#ff9696" stroke="#cc0a0a" stroke-width="1.4"/>
<path d="M444.0 299.9L447.3 303.2L444.0 306.5L440.7 303.2Z" fill="#ff9696" stroke="#cc0a0a" stroke-width="1.4"/>
<path d="M424.9 317.9L428.2 321.2L424.9 324.5L421.6 321.2Z" fill="#ff9696" stroke="#cc0a0a" stroke-width="1.4"/>
<path d="M419.9 320.1L423.2 323.4L419.9 326.7L416.6 323.4Z" fill="#ff9696" stroke="#cc0a0a" stroke-width="1.4"/>
<path d="M427.0 320.8L430.3 324.1L427.0 327.4L423.7 324.1Z" fill="#ff9696" stroke="#cc0a0a" stroke-width="1.4"/>
<path d="M434.1 319.3L437.4 322.6L434.1 325.9L430.8 322.6Z" fill="#ff9696" stroke="#cc0a0a" stroke-width="1.4"/>
<path d="M435.5 322.9L438.8 326.2L435.5 329.5L432.2 326.2Z" fill="#ff9696" stroke="#cc0a0a" stroke-width="1.4"/>
<path d="M440.5 322.2L443.8 325.5L440.5 328.8L437.2 325.5Z" fill="#ff9696" stroke="#cc0a0a" stroke-width="1.4"/>
<path d="M432.7 328.6L436.0 331.9L432.7 335.2L429.4 331.9Z" fill="#ff9696" stroke="#cc0a0a" stroke-width="1.4"/>
<path d="M416.0 327.7L419.3 331.0L416.0 334.3L412.7 331.0Z" fill="#ff9696" stroke="#cc0a0a" stroke-width="1.4"/>
<path d="M451.9 332.6L455.2 335.9L451.9 339.2L448.6 335.9Z" fill="#ff9696" stroke="#cc0a0a" stroke-width="1.4"/>
<path d="M440.8 333.6L444.1 336.9L440.8 340.2L437.5 336.9Z" fill="#ff9696" stroke="#cc0a0a" stroke-width="1.4"/>
<path d="M393.6 346.4L396.9 349.7L393.6 352.9L390.4 349.7Z" fill="#3a62bc" stroke="#121278" stroke-width="1.3"/>
<path d="M408.9 341.6L412.1 344.8L408.9 348.1L405.6 344.8Z" fill="#3a62bc" stroke="#121278" stroke-width="1.3"/>
<path d="M412.3 342.1L415.6 345.4L412.3 348.6L409.1 345.4Z" fill="#3a62bc" stroke="#121278" stroke-width="1.3"/>
<path d="M437.6 330.4L440.9 333.7L437.6 336.9L434.4 333.7Z" fill="#3a62bc" stroke="#121278" stroke-width="1.3"/>
<path d="M435.5 331.4L438.8 334.7L435.5 337.9L432.2 334.7Z" fill="#3a62bc" stroke="#121278" stroke-width="1.3"/>
<path d="M421.3 345.6L424.6 348.9L421.3 352.1L418.1 348.9Z" fill="#3a62bc" stroke="#121278" stroke-width="1.3"/>
<path d="M477.5 323.8L480.8 327.0L477.5 330.2L474.2 327.0Z" fill="#3a62bc" stroke="#121278" stroke-width="1.3"/>
<path d="M478.7 271.1L481.9 274.3L478.7 277.6L475.4 274.3Z" fill="#3a62bc" stroke="#121278" stroke-width="1.3"/>
<path d="M504.2 271.8L507.4 275.0L504.2 278.2L500.9 275.0Z" fill="#3a62bc" stroke="#121278" stroke-width="1.3"/>
<path d="M496.6 297.4L499.9 300.6L496.6 303.9L493.4 300.6Z" fill="#3a62bc" stroke="#121278" stroke-width="1.3"/>
<circle cx="412.9" cy="328.7" r="2.75" fill="#ccf0fa" stroke="#1282c6" stroke-width="1.5"/>
<circle cx="391.9" cy="355.1" r="2.75" fill="#ccf0fa" stroke="#1282c6" stroke-width="1.5"/>
<circle cx="418.3" cy="356.0" r="2.75" fill="#ccf0fa" stroke="#1282c6" stroke-width="1.5"/>
<circle cx="458.3" cy="308.0" r="2.75" fill="#ccf0fa" stroke="#1282c6" stroke-width="1.5"/>
<circle cx="455.7" cy="313.8" r="2.75" fill="#ccf0fa" stroke="#1282c6" stroke-width="1.5"/>
<circle cx="445.0" cy="327.9" r="2.75" fill="#ccf0fa" stroke="#1282c6" stroke-width="1.5"/>
<circle cx="425.1" cy="331.9" r="2.75" fill="#ccf0fa" stroke="#1282c6" stroke-width="1.5"/>
<circle cx="421.7" cy="341.8" r="2.75" fill="#ccf0fa" stroke="#1282c6" stroke-width="1.5"/>

<path d="M474.8 296.9 L470.6 303.9 L469.8 300.6 L466.6 299.0 Z" fill="#1282c6"/>
<path d="M392.8 313.5 L401.2 312.4 L399.0 315.8 L398.4 320.0 Z" fill="#cc0a0a"/>
<path d="M449.2 297.6 L456.6 300.4 L453.2 301.4 L452.2 305.2 Z" fill="#158a3c"/>

<rect x="331.30" y="220.55" width="217.00" height="160.05" fill="none" stroke="#111" stroke-width="1.35"/>
<line x1="331.30" y1="375.27" x2="334.90" y2="375.27" stroke="#111" stroke-width="1.35" />
<line x1="331.30" y1="369.93" x2="334.90" y2="369.93" stroke="#111" stroke-width="1.35" />
<line x1="331.30" y1="364.60" x2="334.90" y2="364.60" stroke="#111" stroke-width="1.35" />
<line x1="331.30" y1="359.26" x2="334.90" y2="359.26" stroke="#111" stroke-width="1.35" />
<line x1="331.30" y1="353.93" x2="335.90" y2="353.93" stroke="#111" stroke-width="1.35" />
<line x1="331.30" y1="348.59" x2="334.90" y2="348.59" stroke="#111" stroke-width="1.35" />
<line x1="331.30" y1="343.25" x2="334.90" y2="343.25" stroke="#111" stroke-width="1.35" />
<line x1="331.30" y1="337.92" x2="334.90" y2="337.92" stroke="#111" stroke-width="1.35" />
<line x1="331.30" y1="332.59" x2="334.90" y2="332.59" stroke="#111" stroke-width="1.35" />
<line x1="331.30" y1="327.25" x2="335.90" y2="327.25" stroke="#111" stroke-width="1.35" />
<line x1="331.30" y1="321.92" x2="334.90" y2="321.92" stroke="#111" stroke-width="1.35" />
<line x1="331.30" y1="316.58" x2="334.90" y2="316.58" stroke="#111" stroke-width="1.35" />
<line x1="331.30" y1="311.25" x2="334.90" y2="311.25" stroke="#111" stroke-width="1.35" />
<line x1="331.30" y1="305.91" x2="334.90" y2="305.91" stroke="#111" stroke-width="1.35" />
<line x1="331.30" y1="300.58" x2="335.90" y2="300.58" stroke="#111" stroke-width="1.35" />
<line x1="331.30" y1="295.24" x2="334.90" y2="295.24" stroke="#111" stroke-width="1.35" />
<line x1="331.30" y1="289.91" x2="334.90" y2="289.91" stroke="#111" stroke-width="1.35" />
<line x1="331.30" y1="284.57" x2="334.90" y2="284.57" stroke="#111" stroke-width="1.35" />
<line x1="331.30" y1="279.24" x2="334.90" y2="279.24" stroke="#111" stroke-width="1.35" />
<line x1="331.30" y1="273.90" x2="335.90" y2="273.90" stroke="#111" stroke-width="1.35" />
<line x1="331.30" y1="268.56" x2="334.90" y2="268.56" stroke="#111" stroke-width="1.35" />
<line x1="331.30" y1="263.23" x2="334.90" y2="263.23" stroke="#111" stroke-width="1.35" />
<line x1="331.30" y1="257.90" x2="334.90" y2="257.90" stroke="#111" stroke-width="1.35" />
<line x1="331.30" y1="252.56" x2="334.90" y2="252.56" stroke="#111" stroke-width="1.35" />
<line x1="331.30" y1="247.23" x2="335.90" y2="247.23" stroke="#111" stroke-width="1.35" />
<line x1="331.30" y1="241.89" x2="334.90" y2="241.89" stroke="#111" stroke-width="1.35" />
<line x1="331.30" y1="236.56" x2="334.90" y2="236.56" stroke="#111" stroke-width="1.35" />
<line x1="331.30" y1="231.22" x2="334.90" y2="231.22" stroke="#111" stroke-width="1.35" />
<line x1="331.30" y1="225.89" x2="334.90" y2="225.89" stroke="#111" stroke-width="1.35" />
<line x1="353.07" y1="380.60" x2="353.07" y2="377.00" stroke="#111" stroke-width="1.35" />
<line x1="365.81" y1="380.60" x2="365.81" y2="377.00" stroke="#111" stroke-width="1.35" />
<line x1="374.85" y1="380.60" x2="374.85" y2="377.00" stroke="#111" stroke-width="1.35" />
<line x1="381.86" y1="380.60" x2="381.86" y2="377.00" stroke="#111" stroke-width="1.35" />
<line x1="387.59" y1="380.60" x2="387.59" y2="377.00" stroke="#111" stroke-width="1.35" />
<line x1="392.43" y1="380.60" x2="392.43" y2="377.00" stroke="#111" stroke-width="1.35" />
<line x1="396.62" y1="380.60" x2="396.62" y2="377.00" stroke="#111" stroke-width="1.35" />
<line x1="400.32" y1="380.60" x2="400.32" y2="377.00" stroke="#111" stroke-width="1.35" />
<line x1="403.63" y1="380.60" x2="403.63" y2="375.50" stroke="#111" stroke-width="1.35" />
<line x1="425.41" y1="380.60" x2="425.41" y2="377.00" stroke="#111" stroke-width="1.35" />
<line x1="438.15" y1="380.60" x2="438.15" y2="377.00" stroke="#111" stroke-width="1.35" />
<line x1="447.18" y1="380.60" x2="447.18" y2="377.00" stroke="#111" stroke-width="1.35" />
<line x1="454.19" y1="380.60" x2="454.19" y2="377.00" stroke="#111" stroke-width="1.35" />
<line x1="459.92" y1="380.60" x2="459.92" y2="377.00" stroke="#111" stroke-width="1.35" />
<line x1="464.76" y1="380.60" x2="464.76" y2="377.00" stroke="#111" stroke-width="1.35" />
<line x1="468.96" y1="380.60" x2="468.96" y2="377.00" stroke="#111" stroke-width="1.35" />
<line x1="472.66" y1="380.60" x2="472.66" y2="377.00" stroke="#111" stroke-width="1.35" />
<line x1="475.97" y1="380.60" x2="475.97" y2="375.50" stroke="#111" stroke-width="1.35" />
<line x1="497.74" y1="380.60" x2="497.74" y2="377.00" stroke="#111" stroke-width="1.35" />
<line x1="510.48" y1="380.60" x2="510.48" y2="377.00" stroke="#111" stroke-width="1.35" />
<line x1="519.52" y1="380.60" x2="519.52" y2="377.00" stroke="#111" stroke-width="1.35" />
<line x1="526.53" y1="380.60" x2="526.53" y2="377.00" stroke="#111" stroke-width="1.35" />
<line x1="532.25" y1="380.60" x2="532.25" y2="377.00" stroke="#111" stroke-width="1.35" />
<line x1="537.10" y1="380.60" x2="537.10" y2="377.00" stroke="#111" stroke-width="1.35" />
<line x1="541.29" y1="380.60" x2="541.29" y2="377.00" stroke="#111" stroke-width="1.35" />
<line x1="544.99" y1="380.60" x2="544.99" y2="377.00" stroke="#111" stroke-width="1.35" />
<text x="325.20" y="382.20" font-size="10.0" text-anchor="end" fill="#000" letter-spacing="0.3">0.5</text>
<text x="325.20" y="357.93" font-size="10.0" text-anchor="end" fill="#000" letter-spacing="0.3">1.0</text>
<text x="325.20" y="331.25" font-size="10.0" text-anchor="end" fill="#000" letter-spacing="0.3">1.5</text>
<text x="325.20" y="304.58" font-size="10.0" text-anchor="end" fill="#000" letter-spacing="0.3">2.0</text>
<text x="325.20" y="277.90" font-size="10.0" text-anchor="end" fill="#000" letter-spacing="0.3">2.5</text>
<text x="325.20" y="251.23" font-size="10.0" text-anchor="end" fill="#000" letter-spacing="0.3">3.0</text>
<text x="325.20" y="225.55" font-size="10.0" text-anchor="end" fill="#000" letter-spacing="0.3">3.5</text>
<text x="336.90" y="393.70" font-size="10.0" text-anchor="middle" fill="#000" letter-spacing="0.3">0.01</text>
<text x="402.33" y="393.70" font-size="10.0" text-anchor="middle" fill="#000" letter-spacing="0.3">0.1</text>
<text x="474.77" y="393.70" font-size="10.0" text-anchor="middle" fill="#000" letter-spacing="0.3">1</text>
<text x="546.70" y="393.70" font-size="10.0" text-anchor="middle" fill="#000" letter-spacing="0.3">10</text>
<text x="299.40" y="299.30" font-size="13" text-anchor="middle" fill="#000" transform="rotate(-90 299.40 299.30)" >Hf (wt. %)</text>
<text x="446.80" y="411.10" font-size="13" text-anchor="middle" fill="#000"><tspan font-family="Liberation Serif, serif" font-size="13.5">Σ</tspan>REE (wt. %)</text>
<path d="M98.0 578.5h7.8M101.9 574.6v7.8M95.8 580.7h7.8M99.7 576.8v7.8M85.2 586.8h7.8M89.1 582.9v7.8M98.8 558.2h7.8M102.7 554.3v7.8M112.3 568.0h7.8M116.2 564.1v7.8M106.3 570.2h7.8M110.2 566.3v7.8M115.3 547.6h7.8M119.2 543.7v7.8M118.3 545.4h7.8M122.2 541.5v7.8M116.8 550.6h7.8M120.7 546.7v7.8M121.4 549.1h7.8M125.3 545.2v7.8M124.4 540.1h7.8M128.3 536.2v7.8M128.1 537.8h7.8M132.0 533.9v7.8M131.9 535.6h7.8M135.8 531.7v7.8M122.9 544.6h7.8M126.8 540.7v7.8M125.9 555.2h7.8M129.8 551.3v7.8M134.9 534.1h7.8M138.8 530.2v7.8M113.1 555.2h7.8M117.0 551.3v7.8M147.7 496.8h7.8M151.6 492.9v7.8M153.0 497.8h7.8M156.9 493.9v7.8M165.8 491.1h7.8M169.7 487.2v7.8M165.8 497.8h7.8M169.7 493.9v7.8M174.8 485.1h7.8M178.7 481.2v7.8M182.3 482.0h7.8M186.2 478.1v7.8M184.6 489.6h7.8M188.5 485.7v7.8M186.8 492.6h7.8M190.7 488.7v7.8M179.3 494.1h7.8M183.2 490.2v7.8M176.3 500.1h7.8M180.2 496.2v7.8M170.3 501.6h7.8M174.2 497.7v7.8M167.3 504.6h7.8M171.2 500.7v7.8M156.7 503.1h7.8M160.6 499.2v7.8M146.2 514.4h7.8M150.1 510.5v7.8M153.7 521.2h7.8M157.6 517.3v7.8M156.7 525.7h7.8M160.6 521.8v7.8M152.2 524.2h7.8M156.1 520.3v7.8M198.9 518.2h7.8M202.8 514.3v7.8M198.9 522.7h7.8M202.8 518.8v7.8M162.0 556.5h7.8M165.9 552.6v7.8M131.2 536.2h7.8M135.1 532.3v7.8M126.6 540.7h7.8M130.5 536.8v7.8M123.6 545.3h7.8M127.5 541.4v7.8M119.1 548.3h7.8M123.0 544.4v7.8M134.2 537.7h7.8M138.1 533.8v7.8M198.9 473.0h7.8M202.8 469.1v7.8M202.6 476.0h7.8M206.5 472.1v7.8M194.4 482.0h7.8M198.3 478.1v7.8M189.9 486.6h7.8M193.8 482.7v7.8M161.3 515.2h7.8M165.2 511.3v7.8M150.7 529.5h7.8M154.6 525.6v7.8M235.8 438.8h7.8M239.7 434.9v7.8M220.6 449.9h7.8M224.5 446.0v7.8M230.9 451.3h7.8M234.8 447.4v7.8M228.0 454.9h7.8M231.9 451.0v7.8M211.7 455.6h7.8M215.6 451.7v7.8M223.7 462.0h7.8M227.6 458.1v7.8M214.5 462.0h7.8M218.4 458.1v7.8M205.3 463.4h7.8M209.2 459.5v7.8M197.4 469.1h7.8M201.3 465.2v7.8M213.8 467.0h7.8M217.7 463.1v7.8M212.4 471.2h7.8M216.3 467.3v7.8M215.2 472.6h7.8M219.1 468.7v7.8M201.7 475.5h7.8M205.6 471.6v7.8M204.6 476.9h7.8M208.5 473.0v7.8M195.3 482.6h7.8M199.2 478.7v7.8M199.6 479.0h7.8M203.5 475.1v7.8M219.8 487.6h7.8M223.7 483.7v7.8M206.7 491.1h7.8M210.6 487.2v7.8M204.6 494.7h7.8M208.5 490.8v7.8M183.2 482.6h7.8M187.1 478.7v7.8M185.4 489.7h7.8M189.3 485.8v7.8M188.2 493.3h7.8M192.1 489.4v7.8M183.9 495.4h7.8M187.8 491.5v7.8M223.7 455.6h7.8M227.6 451.7v7.8M209.5 464.1h7.8M213.4 460.2v7.8M84.5 585.3h7.8M88.4 581.4v7.8M98.5 577.3h7.8M102.4 573.4v7.8M134.1 534.0h7.8M138.0 530.1v7.8M118.5 556.3h7.8M122.4 552.4v7.8M164.4 512.4h7.8M168.3 508.5v7.8M145.7 525.5h7.8M149.6 521.6v7.8M168.7 510.3h7.8M172.6 506.4v7.8M149.7 519.8h7.8M153.6 515.9v7.8M138.3 533.8h7.8M142.2 529.9v7.8M188.1 491.1h7.8M192.0 487.2v7.8M162.0 507.3h7.8M165.9 503.4v7.8M193.3 469.8h7.8M197.2 465.9v7.8M207.6 471.1h7.8M211.5 467.2v7.8M140.1 537.7h7.8M144.0 533.8v7.8M136.4 536.6h7.8M140.3 532.7v7.8M160.5 521.0h7.8M164.4 517.1v7.8M103.8 571.8h7.8M107.7 567.9v7.8M159.0 514.3h7.8M162.9 510.4v7.8M150.1 524.0h7.8M154.0 520.1v7.8M189.8 487.2h7.8M193.7 483.3v7.8M153.5 524.7h7.8M157.4 520.8v7.8M134.8 540.0h7.8M138.7 536.1v7.8M107.0 560.1h7.8M110.9 556.2v7.8M201.0 474.8h7.8M204.9 470.9v7.8M174.7 501.7h7.8M178.6 497.8v7.8M196.3 475.5h7.8M200.2 471.6v7.8M125.4 548.2h7.8M129.3 544.3v7.8M161.9 504.9h7.8M165.8 501.0v7.8M180.2 501.5h7.8M184.1 497.6v7.8M195.8 475.1h7.8M199.7 471.2v7.8M137.1 537.3h7.8M141.0 533.4v7.8M140.8 529.4h7.8M144.7 525.5v7.8M167.6 509.4h7.8M171.5 505.5v7.8M165.9 513.8h7.8M169.8 509.9v7.8M141.3 524.5h7.8M145.2 520.6v7.8M169.8 509.2h7.8M173.7 505.3v7.8M119.7 550.1h7.8M123.6 546.2v7.8M145.0 525.8h7.8M148.9 521.9v7.8M152.6 514.3h7.8M156.5 510.4v7.8M144.9 532.2h7.8M148.8 528.3v7.8M198.0 482.0h7.8M201.9 478.1v7.8M203.4 477.4h7.8M207.3 473.5v7.8M203.0 470.2h7.8M206.9 466.3v7.8M132.5 540.2h7.8M136.4 536.3v7.8M207.6 462.9h7.8M211.5 459.0v7.8M211.0 475.2h7.8M214.9 471.3v7.8M149.7 524.0h7.8M153.6 520.1v7.8M157.5 527.5h7.8M161.4 523.6v7.8M208.0 479.0h7.8M211.9 475.1v7.8M181.9 495.5h7.8M185.8 491.6v7.8M181.5 495.7h7.8M185.4 491.8v7.8M140.1 529.9h7.8M144.0 526.0v7.8M183.7 489.3h7.8M187.6 485.4v7.8M126.3 534.1h7.8M130.2 530.2v7.8M163.3 511.2h7.8M167.2 507.3v7.8M202.0 479.1h7.8M205.9 475.2v7.8M154.8 525.7h7.8M158.7 521.8v7.8M219.9 469.6h7.8M223.8 465.7v7.8M213.1 470.8h7.8M217.0 466.9v7.8M140.3 532.3h7.8M144.2 528.4v7.8M184.7 495.1h7.8M188.6 491.2v7.8M102.9 562.6h7.8M106.8 558.7v7.8M128.5 535.0h7.8M132.4 531.1v7.8M165.5 502.3h7.8M169.4 498.4v7.8M169.1 505.6h7.8M173.0 501.7v7.8M153.1 522.8h7.8M157.0 518.9v7.8M155.3 513.9h7.8M159.2 510.0v7.8M170.8 506.6h7.8M174.7 502.7v7.8M175.4 504.2h7.8M179.3 500.3v7.8M168.1 501.8h7.8M172.0 497.9v7.8M96.3 571.4h7.8M100.2 567.5v7.8M179.1 508.8h7.8M183.0 504.9v7.8" stroke="#bababa" stroke-width="1.0" fill="none"/>
<line x1="50.90" y1="554.15" x2="267.80" y2="554.15" stroke="#787878" stroke-width="1.4" />
<line x1="50.90" y1="514.00" x2="267.80" y2="514.00" stroke="#787878" stroke-width="1.4" />
<line x1="50.90" y1="473.85" x2="267.80" y2="473.85" stroke="#787878" stroke-width="1.4" />
<circle cx="168.9" cy="517.4" r="3.3" fill="#747474" />
<circle cx="171.2" cy="513.6" r="3.3" fill="#747474" />
<circle cx="174.2" cy="510.3" r="3.3" fill="#747474" />
<circle cx="177.9" cy="508.8" r="3.3" fill="#747474" />
<circle cx="181.7" cy="509.4" r="3.3" fill="#747474" />
<circle cx="184.7" cy="535.0" r="3.3" fill="#747474" />
<circle cx="182.5" cy="539.2" r="3.3" fill="#747474" />
<circle cx="186.2" cy="534.7" r="3.3" fill="#747474" />
<circle cx="185.5" cy="502.8" r="2.75" fill="#ccf0fa" stroke="#1282c6" stroke-width="1.5"/>
<path d="M209.2 464.3L212.8 471.3H205.6Z" fill="#129040" stroke="#086028" stroke-width="1.1" stroke-linejoin="miter"/>
<path d="M237.3 454.3L240.9 461.3H233.8Z" fill="#129040" stroke="#086028" stroke-width="1.1" stroke-linejoin="miter"/>
<path d="M234.5 456.9L238.1 463.9H230.9Z" fill="#129040" stroke="#086028" stroke-width="1.1" stroke-linejoin="miter"/>
<circle cx="206.5" cy="485.5" r="2.75" fill="#7a7a7a" stroke="#0a0a0a" stroke-width="1.4"/>
<circle cx="198.3" cy="494.8" r="2.75" fill="#7a7a7a" stroke="#0a0a0a" stroke-width="1.4"/>
<circle cx="194.8" cy="499.3" r="2.75" fill="#7a7a7a" stroke="#0a0a0a" stroke-width="1.4"/>
<circle cx="204.2" cy="488.3" r="2.75" fill="#7a7a7a" stroke="#0a0a0a" stroke-width="1.4"/>
<circle cx="132.0" cy="550.6" r="2.75" fill="#ccf0fa" stroke="#1282c6" stroke-width="1.5"/>
<circle cx="123.8" cy="562.4" r="2.75" fill="#ccf0fa" stroke="#1282c6" stroke-width="1.5"/>
<circle cx="114.0" cy="561.2" r="2.75" fill="#ccf0fa" stroke="#1282c6" stroke-width="1.5"/>
<circle cx="97.0" cy="574.4" r="2.75" fill="#ccf0fa" stroke="#1282c6" stroke-width="1.5"/>
<circle cx="82.4" cy="585.3" r="2.75" fill="#ccf0fa" stroke="#1282c6" stroke-width="1.5"/>
<circle cx="179.8" cy="512.6" r="2.75" fill="#ccf0fa" stroke="#1282c6" stroke-width="1.5"/>
<circle cx="146.3" cy="540.7" r="2.75" fill="#ccf0fa" stroke="#1282c6" stroke-width="1.5"/>
<circle cx="152.4" cy="534.7" r="2.75" fill="#ccf0fa" stroke="#1282c6" stroke-width="1.5"/>
<path d="M199.3 485.1L202.6 488.4L199.3 491.7L196.0 488.4Z" fill="#ff9696" stroke="#cc0a0a" stroke-width="1.4"/>
<path d="M201.3 491.5L204.6 494.8L201.3 498.1L198.0 494.8Z" fill="#ff9696" stroke="#cc0a0a" stroke-width="1.4"/>
<path d="M201.3 498.6L204.6 501.9L201.3 505.2L198.0 501.9Z" fill="#ff9696" stroke="#cc0a0a" stroke-width="1.4"/>
<path d="M196.8 501.6L200.1 504.9L196.8 508.2L193.5 504.9Z" fill="#ff9696" stroke="#cc0a0a" stroke-width="1.4"/>
<path d="M191.5 501.6L194.8 504.9L191.5 508.2L188.2 504.9Z" fill="#ff9696" stroke="#cc0a0a" stroke-width="1.4"/>
<path d="M165.6 503.6L168.9 506.9L165.6 510.2L162.3 506.9Z" fill="#ff9696" stroke="#cc0a0a" stroke-width="1.4"/>
<path d="M159.6 510.0L162.9 513.3L159.6 516.6L156.3 513.3Z" fill="#ff9696" stroke="#cc0a0a" stroke-width="1.4"/>
<path d="M189.2 512.6L192.5 515.9L189.2 519.2L185.9 515.9Z" fill="#ff9696" stroke="#cc0a0a" stroke-width="1.4"/>
<path d="M172.2 521.2L175.5 524.5L172.2 527.8L168.9 524.5Z" fill="#ff9696" stroke="#cc0a0a" stroke-width="1.4"/>
<path d="M150.9 526.6L154.2 529.9L150.9 533.2L147.6 529.9Z" fill="#ff9696" stroke="#cc0a0a" stroke-width="1.4"/>
<path d="M153.9 528.1L157.2 531.4L153.9 534.7L150.6 531.4Z" fill="#ff9696" stroke="#cc0a0a" stroke-width="1.4"/>
<path d="M147.8 532.6L151.1 535.9L147.8 539.2L144.5 535.9Z" fill="#ff9696" stroke="#cc0a0a" stroke-width="1.4"/>
<path d="M142.6 532.9L145.9 536.2L142.6 539.5L139.3 536.2Z" fill="#ff9696" stroke="#cc0a0a" stroke-width="1.4"/>
<path d="M142.6 540.1L145.9 543.4L142.6 546.7L139.3 543.4Z" fill="#ff9696" stroke="#cc0a0a" stroke-width="1.4"/>
<path d="M147.5 546.8L150.8 550.1L147.5 553.4L144.2 550.1Z" fill="#ff9696" stroke="#cc0a0a" stroke-width="1.4"/>
<path d="M226.5 469.3L229.8 472.6L226.5 475.9L223.2 472.6Z" fill="#ff9696" stroke="#cc0a0a" stroke-width="1.4"/>
<path d="M215.1 474.7L218.4 478.0L215.1 481.3L211.8 478.0Z" fill="#ff9696" stroke="#cc0a0a" stroke-width="1.4"/>
<path d="M136.5 541.0L139.8 544.3L136.5 547.5L133.2 544.3Z" fill="#3a62bc" stroke="#121278" stroke-width="1.3"/>
<path d="M124.5 552.6L127.8 555.9L124.5 559.1L121.2 555.9Z" fill="#3a62bc" stroke="#121278" stroke-width="1.3"/>
<path d="M108.4 560.1L111.7 563.4L108.4 566.6L105.2 563.4Z" fill="#3a62bc" stroke="#121278" stroke-width="1.3"/>
<path d="M112.9 563.6L116.2 566.9L112.9 570.1L109.7 566.9Z" fill="#3a62bc" stroke="#121278" stroke-width="1.3"/>
<path d="M104.9 570.0L108.2 573.2L104.9 576.5L101.7 573.2Z" fill="#3a62bc" stroke="#121278" stroke-width="1.3"/>
<path d="M103.4 570.8L106.7 574.0L103.4 577.2L100.2 574.0Z" fill="#3a62bc" stroke="#121278" stroke-width="1.3"/>
<path d="M91.7 579.5L95.0 582.7L91.7 586.0L88.5 582.7Z" fill="#3a62bc" stroke="#121278" stroke-width="1.3"/>
<path d="M186.2 501.1L189.4 504.3L186.2 507.6L182.9 504.3Z" fill="#3a62bc" stroke="#121278" stroke-width="1.3"/>
<path d="M142.6 536.8L145.8 540.0L142.6 543.2L139.3 540.0Z" fill="#3a62bc" stroke="#121278" stroke-width="1.3"/>
<path d="M136.3 540.9L139.6 544.1L136.3 547.4L133.1 544.1Z" fill="#3a62bc" stroke="#121278" stroke-width="1.3"/>
<path d="M219.4 479.1L222.7 482.3L219.4 485.6L216.2 482.3Z" fill="#3a62bc" stroke="#121278" stroke-width="1.3"/>
<path d="M186.4 500.9L189.7 504.2L186.4 507.4L183.2 504.2Z" fill="#3a62bc" stroke="#121278" stroke-width="1.3"/>
<path d="M136.1 518.7L139.7 525.7H132.5Z" fill="#f6ee00" stroke="#0a0a0a" stroke-width="1.1" stroke-linejoin="miter"/>
<path d="M119.7 532.7L123.2 539.7H116.2Z" fill="#f6ee00" stroke="#0a0a0a" stroke-width="1.1" stroke-linejoin="miter"/>
<path d="M109.9 550.3L113.5 557.3H106.4Z" fill="#f6ee00" stroke="#0a0a0a" stroke-width="1.1" stroke-linejoin="miter"/>
<path d="M114.0 552.6L117.5 559.6H110.5Z" fill="#f6ee00" stroke="#0a0a0a" stroke-width="1.1" stroke-linejoin="miter"/>
<path d="M101.9 559.8L105.5 566.8H98.4Z" fill="#f6ee00" stroke="#0a0a0a" stroke-width="1.1" stroke-linejoin="miter"/>
<path d="M98.2 560.5L101.8 567.5H94.7Z" fill="#f6ee00" stroke="#0a0a0a" stroke-width="1.1" stroke-linejoin="miter"/>
<path d="M94.1 563.4L97.6 570.4H90.5Z" fill="#f6ee00" stroke="#0a0a0a" stroke-width="1.1" stroke-linejoin="miter"/>
<path d="M90.3 570.6L93.8 577.6H86.8Z" fill="#f6ee00" stroke="#0a0a0a" stroke-width="1.1" stroke-linejoin="miter"/>
<path d="M89.1 572.9L92.6 579.9H85.5Z" fill="#f6ee00" stroke="#0a0a0a" stroke-width="1.1" stroke-linejoin="miter"/>
<path d="M86.6 574.4L90.1 581.4H83.0Z" fill="#f6ee00" stroke="#0a0a0a" stroke-width="1.1" stroke-linejoin="miter"/>
<path d="M83.9 578.4L87.5 585.4H80.4Z" fill="#f6ee00" stroke="#0a0a0a" stroke-width="1.1" stroke-linejoin="miter"/>
<path d="M78.1 580.1L81.6 587.1H74.5Z" fill="#f6ee00" stroke="#0a0a0a" stroke-width="1.1" stroke-linejoin="miter"/>

<rect x="50.90" y="433.70" width="216.90" height="160.60" fill="none" stroke="#111" stroke-width="1.35"/>
<line x1="50.90" y1="582.21" x2="54.50" y2="582.21" stroke="#111" stroke-width="1.35" />
<line x1="50.90" y1="575.14" x2="54.50" y2="575.14" stroke="#111" stroke-width="1.35" />
<line x1="50.90" y1="570.13" x2="54.50" y2="570.13" stroke="#111" stroke-width="1.35" />
<line x1="50.90" y1="566.24" x2="54.50" y2="566.24" stroke="#111" stroke-width="1.35" />
<line x1="50.90" y1="563.06" x2="54.50" y2="563.06" stroke="#111" stroke-width="1.35" />
<line x1="50.90" y1="560.37" x2="54.50" y2="560.37" stroke="#111" stroke-width="1.35" />
<line x1="50.90" y1="558.04" x2="54.50" y2="558.04" stroke="#111" stroke-width="1.35" />
<line x1="50.90" y1="555.99" x2="54.50" y2="555.99" stroke="#111" stroke-width="1.35" />
<line x1="50.90" y1="554.15" x2="54.50" y2="554.15" stroke="#111" stroke-width="1.35" />
<line x1="50.90" y1="542.06" x2="54.50" y2="542.06" stroke="#111" stroke-width="1.35" />
<line x1="50.90" y1="534.99" x2="54.50" y2="534.99" stroke="#111" stroke-width="1.35" />
<line x1="50.90" y1="529.98" x2="54.50" y2="529.98" stroke="#111" stroke-width="1.35" />
<line x1="50.90" y1="526.09" x2="54.50" y2="526.09" stroke="#111" stroke-width="1.35" />
<line x1="50.90" y1="522.91" x2="54.50" y2="522.91" stroke="#111" stroke-width="1.35" />
<line x1="50.90" y1="520.22" x2="54.50" y2="520.22" stroke="#111" stroke-width="1.35" />
<line x1="50.90" y1="517.89" x2="54.50" y2="517.89" stroke="#111" stroke-width="1.35" />
<line x1="50.90" y1="515.84" x2="54.50" y2="515.84" stroke="#111" stroke-width="1.35" />
<line x1="50.90" y1="514.00" x2="54.50" y2="514.00" stroke="#111" stroke-width="1.35" />
<line x1="50.90" y1="501.91" x2="54.50" y2="501.91" stroke="#111" stroke-width="1.35" />
<line x1="50.90" y1="494.84" x2="54.50" y2="494.84" stroke="#111" stroke-width="1.35" />
<line x1="50.90" y1="489.83" x2="54.50" y2="489.83" stroke="#111" stroke-width="1.35" />
<line x1="50.90" y1="485.94" x2="54.50" y2="485.94" stroke="#111" stroke-width="1.35" />
<line x1="50.90" y1="482.76" x2="54.50" y2="482.76" stroke="#111" stroke-width="1.35" />
<line x1="50.90" y1="480.07" x2="54.50" y2="480.07" stroke="#111" stroke-width="1.35" />
<line x1="50.90" y1="477.74" x2="54.50" y2="477.74" stroke="#111" stroke-width="1.35" />
<line x1="50.90" y1="475.69" x2="54.50" y2="475.69" stroke="#111" stroke-width="1.35" />
<line x1="50.90" y1="473.85" x2="54.50" y2="473.85" stroke="#111" stroke-width="1.35" />
<line x1="50.90" y1="461.76" x2="54.50" y2="461.76" stroke="#111" stroke-width="1.35" />
<line x1="50.90" y1="454.69" x2="54.50" y2="454.69" stroke="#111" stroke-width="1.35" />
<line x1="50.90" y1="449.68" x2="54.50" y2="449.68" stroke="#111" stroke-width="1.35" />
<line x1="50.90" y1="445.79" x2="54.50" y2="445.79" stroke="#111" stroke-width="1.35" />
<line x1="50.90" y1="442.61" x2="54.50" y2="442.61" stroke="#111" stroke-width="1.35" />
<line x1="50.90" y1="439.92" x2="54.50" y2="439.92" stroke="#111" stroke-width="1.35" />
<line x1="50.90" y1="437.59" x2="54.50" y2="437.59" stroke="#111" stroke-width="1.35" />
<line x1="50.90" y1="435.54" x2="54.50" y2="435.54" stroke="#111" stroke-width="1.35" />
<line x1="67.22" y1="594.30" x2="67.22" y2="590.70" stroke="#111" stroke-width="1.35" />
<line x1="76.77" y1="594.30" x2="76.77" y2="590.70" stroke="#111" stroke-width="1.35" />
<line x1="83.55" y1="594.30" x2="83.55" y2="590.70" stroke="#111" stroke-width="1.35" />
<line x1="88.80" y1="594.30" x2="88.80" y2="590.70" stroke="#111" stroke-width="1.35" />
<line x1="93.10" y1="594.30" x2="93.10" y2="590.70" stroke="#111" stroke-width="1.35" />
<line x1="96.73" y1="594.30" x2="96.73" y2="590.70" stroke="#111" stroke-width="1.35" />
<line x1="99.87" y1="594.30" x2="99.87" y2="590.70" stroke="#111" stroke-width="1.35" />
<line x1="102.64" y1="594.30" x2="102.64" y2="590.70" stroke="#111" stroke-width="1.35" />
<line x1="105.12" y1="594.30" x2="105.12" y2="589.20" stroke="#111" stroke-width="1.35" />
<line x1="121.45" y1="594.30" x2="121.45" y2="590.70" stroke="#111" stroke-width="1.35" />
<line x1="131.00" y1="594.30" x2="131.00" y2="590.70" stroke="#111" stroke-width="1.35" />
<line x1="137.77" y1="594.30" x2="137.77" y2="590.70" stroke="#111" stroke-width="1.35" />
<line x1="143.03" y1="594.30" x2="143.03" y2="590.70" stroke="#111" stroke-width="1.35" />
<line x1="147.32" y1="594.30" x2="147.32" y2="590.70" stroke="#111" stroke-width="1.35" />
<line x1="150.95" y1="594.30" x2="150.95" y2="590.70" stroke="#111" stroke-width="1.35" />
<line x1="154.10" y1="594.30" x2="154.10" y2="590.70" stroke="#111" stroke-width="1.35" />
<line x1="156.87" y1="594.30" x2="156.87" y2="590.70" stroke="#111" stroke-width="1.35" />
<line x1="159.35" y1="594.30" x2="159.35" y2="589.20" stroke="#111" stroke-width="1.35" />
<line x1="175.67" y1="594.30" x2="175.67" y2="590.70" stroke="#111" stroke-width="1.35" />
<line x1="185.22" y1="594.30" x2="185.22" y2="590.70" stroke="#111" stroke-width="1.35" />
<line x1="192.00" y1="594.30" x2="192.00" y2="590.70" stroke="#111" stroke-width="1.35" />
<line x1="197.25" y1="594.30" x2="197.25" y2="590.70" stroke="#111" stroke-width="1.35" />
<line x1="201.55" y1="594.30" x2="201.55" y2="590.70" stroke="#111" stroke-width="1.35" />
<line x1="205.18" y1="594.30" x2="205.18" y2="590.70" stroke="#111" stroke-width="1.35" />
<line x1="208.32" y1="594.30" x2="208.32" y2="590.70" stroke="#111" stroke-width="1.35" />
<line x1="211.09" y1="594.30" x2="211.09" y2="590.70" stroke="#111" stroke-width="1.35" />
<line x1="213.58" y1="594.30" x2="213.58" y2="589.20" stroke="#111" stroke-width="1.35" />
<line x1="229.90" y1="594.30" x2="229.90" y2="590.70" stroke="#111" stroke-width="1.35" />
<line x1="239.45" y1="594.30" x2="239.45" y2="590.70" stroke="#111" stroke-width="1.35" />
<line x1="246.22" y1="594.30" x2="246.22" y2="590.70" stroke="#111" stroke-width="1.35" />
<line x1="251.48" y1="594.30" x2="251.48" y2="590.70" stroke="#111" stroke-width="1.35" />
<line x1="255.77" y1="594.30" x2="255.77" y2="590.70" stroke="#111" stroke-width="1.35" />
<line x1="259.40" y1="594.30" x2="259.40" y2="590.70" stroke="#111" stroke-width="1.35" />
<line x1="262.55" y1="594.30" x2="262.55" y2="590.70" stroke="#111" stroke-width="1.35" />
<line x1="265.32" y1="594.30" x2="265.32" y2="590.70" stroke="#111" stroke-width="1.35" />
<text x="43.60" y="595.30" font-size="10.0" text-anchor="end" fill="#000" letter-spacing="0.3">1</text>
<text x="43.60" y="558.85" font-size="10.0" text-anchor="end" fill="#000" letter-spacing="0.3">10</text>
<text x="43.60" y="518.80" font-size="10.0" text-anchor="end" fill="#000" letter-spacing="0.3">100</text>
<text x="43.60" y="478.65" font-size="10.0" text-anchor="end" fill="#000" letter-spacing="0.3">1000</text>
<text x="43.60" y="438.50" font-size="10.0" text-anchor="end" fill="#000" letter-spacing="0.3">10000</text>
<text x="49.70" y="607.20" font-size="10.0" text-anchor="middle" fill="#000" letter-spacing="0.3">1</text>
<text x="103.92" y="607.20" font-size="10.0" text-anchor="middle" fill="#000" letter-spacing="0.3">10</text>
<text x="157.35" y="607.20" font-size="10.0" text-anchor="middle" fill="#000" letter-spacing="0.3">100</text>
<text x="211.38" y="607.20" font-size="10.0" text-anchor="middle" fill="#000" letter-spacing="0.3">1000</text>
<text x="260.20" y="607.20" font-size="10.0" text-anchor="middle" fill="#000" letter-spacing="0.3">10000</text>
<text x="12.10" y="511.10" font-size="13" text-anchor="middle" fill="#000" transform="rotate(-90 12.10 511.10)" >Th (ppm)</text>
<text x="155.30" y="623.40" font-size="13" text-anchor="middle" fill="#000" >U (ppm)</text>
<rect x="296.2" y="442.8" width="262.0" height="115.1" fill="#fff" stroke="#111" stroke-width="1.1"/>
<text x="300.50" y="457.90" font-size="11.2" text-anchor="start" fill="#000" >Oceanic plagiogranite</text>
<text x="315.50" y="472.40" font-size="11.2" text-anchor="start" fill="#000" >U1309D-463</text>
<text x="301.50" y="490.60" font-size="11.2" text-anchor="start" fill="#000" >U1309D-40</text>
<text x="315.50" y="502.30" font-size="11.2" text-anchor="start" fill="#000" >normal</text>
<text x="315.50" y="519.20" font-size="11.2" text-anchor="start" fill="#000" >dark CL rim</text>
<text x="315.50" y="535.00" font-size="11.2" text-anchor="start" fill="#000" >luminescent CL rim</text>
<text x="349.50" y="550.80" font-size="11.2" text-anchor="start" fill="#000" >magmatic ocean crustal zircon</text>
<text x="434.80" y="458.40" font-size="11.2" text-anchor="start" fill="#000" >Fe-Ti oxide gabbro</text>
<text x="454.40" y="473.70" font-size="11.2" text-anchor="start" fill="#000" >Kn180-2 25-20</text>
<text x="454.40" y="487.30" font-size="11.2" text-anchor="start" fill="#000" >U1309D-647</text>
<text x="434.80" y="506.60" font-size="11.2" text-anchor="start" fill="#000" >Fe-Ti oxide-poor gabbro</text>
<text x="454.40" y="521.90" font-size="11.2" text-anchor="start" fill="#000" >U1309D-588</text>
<text x="454.40" y="536.60" font-size="11.2" text-anchor="start" fill="#000" >Kn180-2 11-2</text>
<circle cx="305.5" cy="469.2" r="2.7" fill="#d4f0fb" stroke="#1e8ccc" stroke-width="1.3"/>
<circle cx="305.8" cy="500.2" r="3.3" fill="#a0a0a0" />
<circle cx="305.8" cy="516.3" r="2.7" fill="#757575" stroke="#111" stroke-width="1.2"/>
<circle cx="305.8" cy="531.4" r="3.2" fill="#b4b4b4" />
<path d="M338.4 547.3H345.6M342.0 543.7V550.9" stroke="#bdbdbd" stroke-width="1.0" fill="none"/>
<path d="M445.0 466.1L448.7 473.1H441.3Z" fill="#fbf418" stroke="#222" stroke-width="0.7" stroke-linejoin="miter"/>
<path d="M445.0 479.5L448.7 486.5H441.3Z" fill="#129040" stroke="#086028" stroke-width="0.7" stroke-linejoin="miter"/>
<path d="M445.0 514.5L448.6 518.1L445.0 521.7L441.4 518.1Z" fill="#3a62bc" stroke="#121278" stroke-width="0.8"/>
<path d="M445.0 529.3L448.6 532.9L445.0 536.5L441.4 532.9Z" fill="#ff9c9c" stroke="#d01010" stroke-width="1.0"/>
</svg></body></html>
